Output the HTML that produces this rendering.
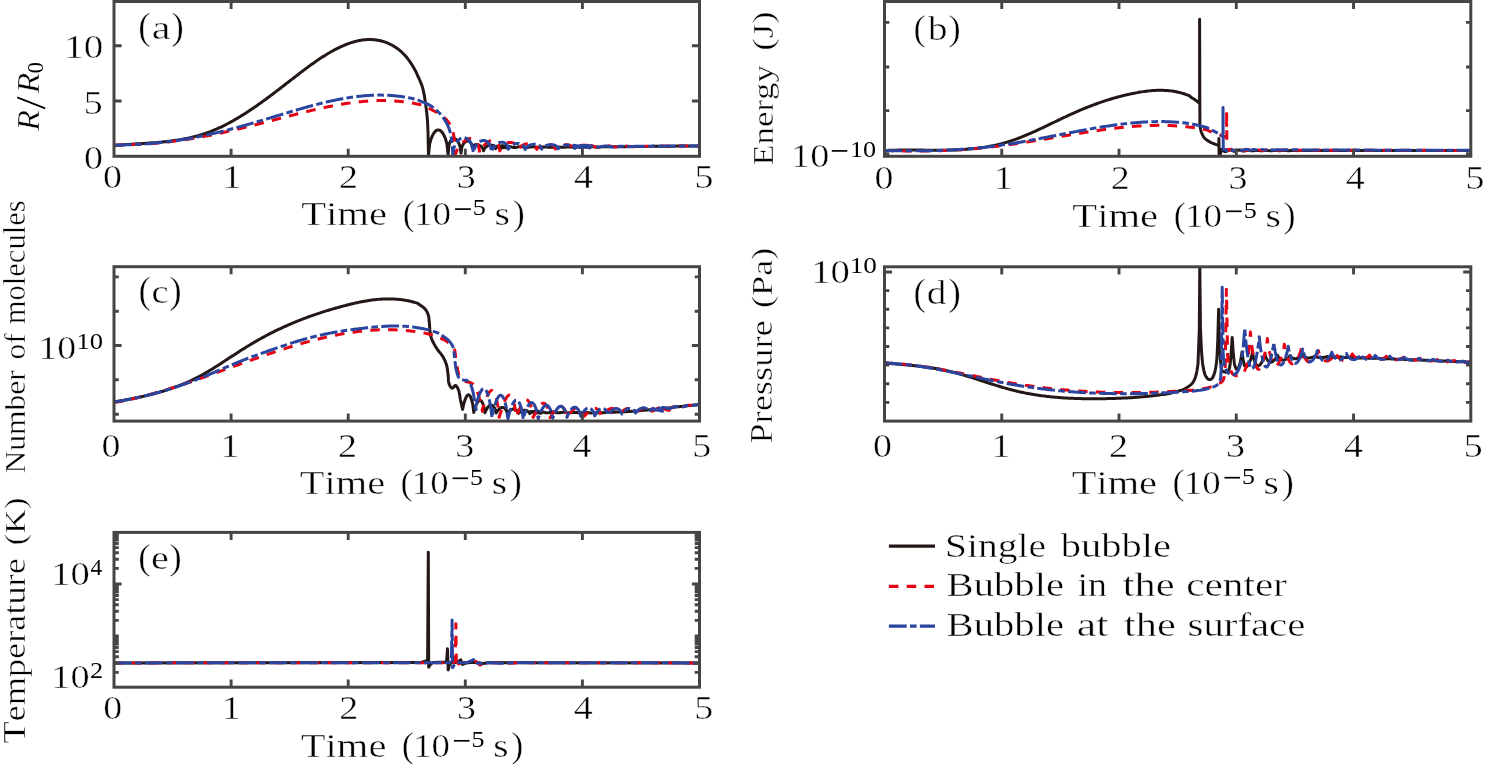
<!DOCTYPE html>
<html><head><meta charset="utf-8"><title>Bubble dynamics</title>
<style>
html,body{margin:0;padding:0;background:#fff;}
body{width:1485px;height:765px;overflow:hidden;font-family:"Liberation Serif",serif;}
svg{display:block;}
</style></head><body>
<svg width="1485" height="765" viewBox="0 0 1485 765">
<rect width="1485" height="765" fill="#fff"/>
<clipPath id="clipa"><rect x="114.00" y="1.50" width="585.50" height="154.80"/></clipPath>
<clipPath id="clipb"><rect x="884.50" y="1.50" width="586.30" height="154.80"/></clipPath>
<clipPath id="clipc"><rect x="114.00" y="266.70" width="585.50" height="154.40"/></clipPath>
<clipPath id="clipd"><rect x="884.50" y="266.80" width="586.30" height="154.30"/></clipPath>
<clipPath id="clipe"><rect x="114.00" y="532.40" width="585.50" height="154.80"/></clipPath>
<g clip-path="url(#clipa)" fill="none" stroke-width="3.0" stroke-linejoin="round">
<path d="M114.00 145.70L115.51 145.54L117.01 145.39L118.52 145.25L120.03 145.11L121.53 144.98L123.04 144.85L124.55 144.73L126.06 144.61L127.56 144.50L129.07 144.39L130.58 144.28L132.08 144.18L133.59 144.07L135.10 143.97L136.60 143.87L138.11 143.78L139.62 143.68L141.13 143.58L142.63 143.48L144.14 143.38L145.65 143.28L147.15 143.18L148.66 143.08L150.17 142.97L151.67 142.86L153.18 142.75L154.69 142.63L156.20 142.51L157.70 142.39L159.21 142.26L160.72 142.12L162.22 141.98L163.73 141.83L165.24 141.67L166.74 141.51L168.25 141.33L169.76 141.15L171.26 140.97L172.77 140.77L174.28 140.56L175.79 140.34L177.29 140.11L178.80 139.88L180.31 139.63L181.81 139.36L183.32 139.09L184.83 138.80L186.33 138.50L187.84 138.19L189.35 137.86L190.86 137.52L192.36 137.16L193.87 136.79L195.38 136.40L196.88 136.00L198.39 135.58L199.90 135.14L201.40 134.69L202.91 134.22L204.42 133.73L205.92 133.22L207.43 132.69L208.94 132.14L210.45 131.57L211.95 130.98L213.46 130.37L214.97 129.74L216.47 129.09L217.98 128.42L219.49 127.73L220.99 127.03L222.50 126.30L224.01 125.56L225.52 124.80L227.02 124.02L228.53 123.23L230.04 122.42L231.54 121.59L233.05 120.75L234.56 119.89L236.06 119.01L237.57 118.13L239.08 117.22L240.59 116.31L242.09 115.38L243.60 114.43L245.11 113.47L246.61 112.51L248.12 111.52L249.63 110.53L251.13 109.52L252.64 108.51L254.15 107.48L255.65 106.44L257.16 105.40L258.67 104.34L260.18 103.27L261.68 102.20L263.19 101.11L264.70 100.02L266.20 98.92L267.71 97.81L269.22 96.69L270.72 95.57L272.23 94.44L273.74 93.31L275.25 92.17L276.75 91.02L278.26 89.87L279.77 88.71L281.27 87.55L282.78 86.38L284.29 85.22L285.79 84.05L287.30 82.87L288.81 81.70L290.31 80.53L291.82 79.36L293.33 78.19L294.84 77.02L296.34 75.86L297.85 74.70L299.36 73.54L300.86 72.39L302.37 71.25L303.88 70.11L305.38 68.98L306.89 67.86L308.40 66.76L309.91 65.66L311.41 64.57L312.92 63.49L314.43 62.43L315.93 61.38L317.44 60.35L318.95 59.33L320.45 58.33L321.96 57.34L323.47 56.37L324.98 55.42L326.48 54.49L327.99 53.58L329.50 52.69L331.00 51.82L332.51 50.98L334.02 50.16L335.52 49.36L337.03 48.58L338.54 47.84L340.04 47.12L341.55 46.42L343.06 45.76L344.57 45.12L346.07 44.51L347.58 43.94L349.09 43.39L350.59 42.88L352.10 42.40L353.61 41.95L355.11 41.54L356.62 41.16L358.13 40.82L359.64 40.52L361.14 40.25L362.65 40.03L364.16 39.84L365.66 39.70L367.17 39.60L368.68 39.54L370.18 39.53L371.69 39.56L373.20 39.64L374.70 39.77L376.21 39.95L377.72 40.19L379.23 40.47L380.73 40.81L382.24 41.20L383.75 41.65L385.25 42.15L386.76 42.72L388.27 43.34L389.77 44.02L391.28 44.77L392.79 45.58L394.30 46.46L395.80 47.43L397.31 48.48L398.82 49.62L400.32 50.87L401.83 52.23L403.34 53.70L404.84 55.30L406.35 57.04L407.86 58.91L409.37 60.93L410.87 63.11L412.38 65.45L413.89 67.98L415.39 70.72L416.90 73.69L416.90 74.00L417.24 74.75L417.59 75.50L417.94 76.25L418.30 77.00L418.65 77.75L418.99 78.50L419.33 79.25L419.67 80.00L419.99 80.75L420.30 81.50L420.59 82.22L420.87 82.92L421.15 83.60L421.42 84.29L421.68 84.98L421.94 85.69L422.19 86.41L422.43 87.17L422.67 87.96L422.90 88.80L423.21 90.03L423.50 91.33L423.79 92.69L424.06 94.11L424.32 95.57L424.57 97.07L424.81 98.59L425.05 100.12L425.28 101.66L425.50 103.20L425.74 104.91L425.98 106.63L426.20 108.35L426.42 110.09L426.63 111.87L426.82 113.68L427.01 115.54L427.18 117.45L427.35 119.44L427.50 121.50L427.68 124.41L427.82 127.49L427.94 130.71L428.04 134.03L428.12 137.44L428.19 140.89L428.26 144.36L428.33 147.82L428.41 151.25L428.50 154.60L429.73 143.69L430.95 139.32L432.18 136.19L433.40 133.83L434.62 132.08L435.85 130.86L437.07 130.14L438.30 129.90L439.53 130.14L440.75 130.86L441.98 132.08L443.20 133.83L444.43 136.19L445.65 139.32L446.88 143.69L448.10 154.60L448.91 145.56L449.71 142.84L450.52 141.08L451.33 139.88L452.13 139.10L452.94 138.64L453.74 138.48L454.55 138.59L455.36 138.93L456.16 139.52L456.97 140.35L457.77 141.44L458.58 142.81L459.39 144.57L460.19 146.98L461.00 153.00L461.71 147.73L462.41 145.77L463.12 144.36L463.82 143.28L464.53 142.44L465.24 141.81L465.94 141.37L466.65 141.09L467.36 140.98L468.06 141.03L468.77 141.23L469.48 141.61L470.18 142.19L470.89 143.02L471.59 144.26L472.30 147.80L473.01 146.00L473.71 145.39L474.42 145.01L475.12 144.77L475.83 144.63L476.54 144.60L477.24 144.66L477.95 144.80L478.66 145.03L479.36 145.35L480.07 145.76L480.78 146.27L481.48 146.88L482.19 147.64L482.89 148.62L483.60 150.80L484.35 148.67L485.10 147.74L485.85 147.03L486.60 146.47L487.35 146.01L488.10 145.65L488.85 145.38L489.60 145.20L490.35 145.11L491.10 145.10L491.85 145.18L492.60 145.37L493.35 145.66L494.10 146.09L494.85 146.75L495.60 148.60L496.35 147.46L497.10 146.98L497.85 146.62L498.60 146.35L499.35 146.13L500.10 145.97L500.85 145.86L501.60 145.80L502.35 145.79L503.10 145.82L503.85 145.91L504.60 146.05L505.35 146.25L506.10 146.53L506.85 146.93L507.60 148.00L496.60 146.20L497.30 146.27L498.00 146.43L498.70 146.66L499.40 146.93L500.10 147.20L500.80 147.44L501.50 147.61L502.20 147.70L502.90 147.69L503.60 147.60L504.30 147.44L505.00 147.23L505.70 147.00L506.40 146.78L507.10 146.60L507.80 146.48L508.50 146.44L509.20 146.48L509.90 146.60L510.60 146.76L511.30 146.96L512.00 147.16L512.70 147.34L513.40 147.48L514.10 147.55L514.80 147.56L515.50 147.50L516.20 147.39L516.90 147.24L517.60 147.07L518.30 146.90L519.00 146.76L519.70 146.67L520.40 146.64L521.10 146.66L521.80 146.73L522.50 146.85L523.20 147.00L523.90 147.15L524.60 147.29L525.30 147.39L526.00 147.46L526.70 147.47L527.40 147.44L528.10 147.36L528.80 147.25L529.50 147.12L530.20 147.00L530.90 146.89L531.60 146.82L532.30 146.79L533.00 146.80L533.70 146.85L534.40 146.94L535.10 147.04L535.80 147.16L536.50 147.26L537.20 147.34L537.90 147.40L538.60 147.41L539.30 147.39L540.00 147.34L540.70 147.26L541.40 147.17L542.10 147.08L542.80 147.00L543.50 146.94L544.20 146.91L544.90 146.92L545.60 146.95L546.30 147.01L547.00 147.09L547.70 147.17L548.40 147.25L549.10 147.32L549.80 147.36L550.50 147.38L551.20 147.37L551.90 147.33L552.60 147.28L553.30 147.21L554.00 147.14L554.70 147.08L555.40 147.04L556.10 147.01L556.80 147.01L557.50 147.04L558.20 147.08L558.90 147.14L559.60 147.20L560.30 147.26L561.00 147.30L561.70 147.33L562.40 147.33L563.10 147.32L563.80 147.29L564.50 147.24L565.20 147.19L565.90 147.13L566.60 147.08L567.30 147.03L568.00 147.01L568.70 147.00L569.40 147.00L570.10 147.03L570.80 147.06L571.50 147.10L572.20 147.14L572.90 147.17L573.60 147.19L574.30 147.19L575.00 147.19L575.70 147.16L576.40 147.13L577.10 147.09L577.80 147.04L578.50 147.00L579.20 146.96L579.90 146.94L580.60 146.93L581.30 146.93L582.00 146.95L582.70 146.97L583.40 147.00L584.10 147.02L584.80 147.05L585.50 147.06L586.20 147.06L586.90 147.06L587.60 147.04L588.30 147.02L589.00 146.98L589.70 146.95L590.40 146.92L591.10 146.89L591.80 146.87L592.50 146.86L593.20 146.86L593.90 146.86L594.60 146.88L595.30 146.90L596.00 146.91L596.70 146.93L597.40 146.94L598.10 146.94L598.80 146.94L599.50 146.93L600.20 146.91L600.90 146.88L601.60 146.85L602.30 146.83L603.00 146.80L603.70 146.79L604.40 146.78L605.10 146.77L605.80 146.78L606.50 146.78L607.20 146.80L607.90 146.81L608.60 146.82L609.30 146.83L610.00 146.83L610.70 146.82L611.40 146.81L612.10 146.80L612.80 146.78L613.50 146.76L614.20 146.74L614.90 146.72L615.60 146.70L616.30 146.69L617.00 146.69L617.70 146.69L618.40 146.69L619.10 146.70L619.80 146.71L620.50 146.71L621.20 146.71L621.90 146.71L622.60 146.71L623.30 146.70L624.00 146.68L624.70 146.67L625.40 146.65L626.10 146.63L626.80 146.61L627.50 146.60L628.20 146.59L628.90 146.58L629.60 146.58L630.30 146.58L631.00 146.58L631.70 146.58L632.40 146.59L633.10 146.59L633.80 146.58L634.50 146.58L635.20 146.57L635.90 146.56L636.60 146.55L637.30 146.53L638.00 146.51L638.70 146.50L639.40 146.49L640.10 146.48L640.80 146.47L641.50 146.46L642.20 146.46L642.90 146.46L643.60 146.46L644.30 146.46L645.00 146.46L645.70 146.46L646.40 146.45L647.10 146.45L647.80 146.44L648.50 146.42L649.20 146.41L649.90 146.40L650.60 146.38L651.30 146.37L652.00 146.36L652.70 146.35L653.40 146.35L654.10 146.35L654.80 146.34L655.50 146.34L656.20 146.34L656.90 146.34L657.60 146.33L658.30 146.33L659.00 146.32L659.70 146.31L660.40 146.30L661.10 146.29L661.80 146.28L662.50 146.27L663.20 146.26L663.90 146.25L664.60 146.24L665.30 146.23L666.00 146.23L666.70 146.22L667.40 146.22L668.10 146.22L668.80 146.22L669.50 146.21L670.20 146.21L670.90 146.20L671.60 146.19L672.30 146.18L673.00 146.17L673.70 146.16L674.40 146.15L675.10 146.14L675.80 146.13L676.50 146.12L677.20 146.12L677.90 146.11L678.60 146.11L679.30 146.10L680.00 146.10L680.70 146.09L681.40 146.09L682.10 146.08L682.80 146.08L683.50 146.07L684.20 146.06L684.90 146.05L685.60 146.04L686.30 146.03L687.00 146.02L687.70 146.01L688.40 146.01L689.10 146.00L689.80 145.99L690.50 145.99L691.20 145.98L691.90 145.98L692.60 145.97L693.30 145.97L694.00 145.96L694.70 145.95L695.40 145.95L696.10 145.94L696.80 145.93L697.50 145.92L698.20 145.91L698.90 145.90" stroke="#231815"/>
<path d="M114.00 144.90L115.51 144.91L117.01 144.92L118.52 144.92L120.02 144.91L121.53 144.90L123.03 144.88L124.54 144.86L126.05 144.83L127.55 144.80L129.06 144.76L130.56 144.71L132.07 144.66L133.58 144.61L135.08 144.55L136.59 144.48L138.09 144.41L139.60 144.34L141.10 144.26L142.61 144.17L144.12 144.08L145.62 143.98L147.13 143.88L148.63 143.78L150.14 143.66L151.65 143.55L153.15 143.42L154.66 143.30L156.16 143.17L157.67 143.03L159.17 142.89L160.68 142.74L162.19 142.59L163.69 142.43L165.20 142.27L166.70 142.10L168.21 141.93L169.72 141.75L171.22 141.57L172.73 141.38L174.23 141.19L175.74 141.00L177.24 140.80L178.75 140.59L180.26 140.38L181.76 140.17L183.27 139.95L184.77 139.72L186.28 139.49L187.79 139.26L189.29 139.02L190.80 138.78L192.30 138.53L193.81 138.28L195.31 138.02L196.82 137.76L198.33 137.49L199.83 137.22L201.34 136.95L202.84 136.67L204.35 136.38L205.86 136.10L207.36 135.80L208.87 135.51L210.37 135.21L211.88 134.90L213.38 134.59L214.89 134.28L216.40 133.96L217.90 133.64L219.41 133.32L220.91 132.99L222.42 132.66L223.93 132.33L225.43 131.99L226.94 131.65L228.44 131.31L229.95 130.96L231.45 130.61L232.96 130.26L234.47 129.91L235.97 129.55L237.48 129.19L238.98 128.83L240.49 128.47L242.00 128.10L243.50 127.73L245.01 127.36L246.51 126.99L248.02 126.62L249.52 126.24L251.03 125.86L252.54 125.48L254.04 125.10L255.55 124.72L257.05 124.34L258.56 123.95L260.07 123.57L261.57 123.18L263.08 122.79L264.58 122.40L266.09 122.01L267.59 121.62L269.10 121.23L270.61 120.84L272.11 120.45L273.62 120.05L275.12 119.66L276.63 119.27L278.13 118.88L279.64 118.48L281.15 118.09L282.65 117.70L284.16 117.30L285.66 116.91L287.17 116.52L288.68 116.13L290.18 115.74L291.69 115.35L293.19 114.96L294.70 114.58L296.20 114.19L297.71 113.81L299.22 113.43L300.72 113.05L302.23 112.68L303.73 112.30L305.24 111.93L306.75 111.57L308.25 111.20L309.76 110.84L311.26 110.48L312.77 110.13L314.27 109.77L315.78 109.43L317.29 109.08L318.79 108.74L320.30 108.41L321.80 108.08L323.31 107.75L324.82 107.43L326.32 107.12L327.83 106.81L329.33 106.50L330.84 106.20L332.34 105.91L333.85 105.62L335.36 105.34L336.86 105.06L338.37 104.80L339.87 104.53L341.38 104.28L342.89 104.03L344.39 103.79L345.90 103.55L347.40 103.33L348.91 103.11L350.41 102.90L351.92 102.69L353.43 102.50L354.93 102.31L356.44 102.13L357.94 101.96L359.45 101.80L360.96 101.65L362.46 101.51L363.97 101.37L365.47 101.25L366.98 101.13L368.48 101.03L369.99 100.94L371.50 100.85L373.00 100.78L374.51 100.71L376.01 100.66L377.52 100.62L379.03 100.59L380.53 100.57L382.04 100.56L383.54 100.56L385.05 100.58L386.55 100.61L388.06 100.65L389.57 100.70L391.07 100.76L392.58 100.84L394.08 100.93L395.59 101.03L397.10 101.15L398.60 101.27L400.11 101.42L401.61 101.57L403.12 101.74L404.62 101.92L406.13 102.12L407.64 102.33L409.14 102.56L410.65 102.80L412.15 103.06L413.66 103.33L415.17 103.61L416.67 103.91L418.18 104.23L419.68 104.56L421.19 104.91L422.69 105.28L424.20 105.66L424.20 105.80L425.29 106.38L426.41 106.96L427.54 107.55L428.67 108.14L429.79 108.73L430.90 109.31L431.98 109.88L433.03 110.44L434.04 110.98L435.00 111.50L435.69 111.87L436.36 112.22L437.01 112.55L437.63 112.87L438.24 113.18L438.84 113.50L439.43 113.84L440.02 114.19L440.61 114.58L441.20 115.00L441.86 115.51L442.53 116.04L443.20 116.61L443.86 117.20L444.51 117.81L445.15 118.43L445.77 119.07L446.38 119.71L446.95 120.35L447.50 121.00L447.99 121.60L448.46 122.21L448.92 122.82L449.36 123.43L449.78 124.06L450.19 124.70L450.57 125.35L450.93 126.01L451.28 126.70L451.60 127.40L451.92 128.19L452.21 129.00L452.47 129.83L452.70 130.68L452.92 131.54L453.11 132.42L453.30 133.31L453.47 134.20L453.64 135.10L453.80 136.00L453.96 136.97L454.11 137.96L454.23 138.97L454.35 139.99L454.45 141.01L454.55 142.04L454.63 143.05L454.72 144.06L454.81 145.04L454.90 146.00L454.98 146.84L455.06 147.66L455.13 148.46L455.20 149.26L455.27 150.06L455.33 150.84L455.40 151.63L455.46 152.41L455.53 153.20L455.60 154.00L457.12 149.91L458.64 147.45L460.16 145.40L461.68 143.64L463.19 142.11L464.71 140.82L466.23 139.79L467.75 139.04L469.27 138.60L470.79 138.50L472.31 138.79L473.83 139.52L475.34 140.75L476.86 142.62L478.38 145.46L479.90 153.00L481.14 149.47L482.39 147.48L483.63 145.85L484.88 144.47L486.12 143.29L487.36 142.31L488.61 141.53L489.85 140.97L491.09 140.65L492.34 140.57L493.58 140.78L494.83 141.29L496.07 142.17L497.31 143.48L498.56 145.49L499.80 150.90L500.96 148.03L502.11 146.60L503.27 145.48L504.43 144.57L505.58 143.82L506.74 143.23L507.89 142.79L509.05 142.51L510.21 142.39L511.36 142.44L512.52 142.68L513.67 143.11L514.83 143.78L515.99 144.73L517.14 146.13L518.30 149.80L519.46 147.65L520.61 146.60L521.77 145.78L522.92 145.11L524.08 144.57L525.24 144.15L526.39 143.85L527.55 143.66L528.71 143.60L529.86 143.66L531.02 143.87L532.17 144.23L533.33 144.76L534.49 145.50L535.64 146.59L536.80 149.40L537.96 147.64L539.11 146.78L540.27 146.10L541.42 145.56L542.58 145.11L543.74 144.76L544.89 144.51L546.05 144.35L547.21 144.30L548.36 144.35L549.52 144.51L550.67 144.80L551.83 145.22L552.99 145.83L554.14 146.71L555.30 149.00L556.46 147.56L557.61 146.85L558.77 146.30L559.92 145.85L561.08 145.48L562.24 145.19L563.39 144.98L564.55 144.85L565.71 144.80L566.86 144.83L568.02 144.96L569.17 145.19L570.33 145.53L571.49 146.02L572.64 146.74L573.80 148.60L574.96 147.45L576.11 146.87L577.27 146.43L578.42 146.06L579.58 145.76L580.74 145.53L581.89 145.35L583.05 145.24L584.21 145.20L585.36 145.22L586.52 145.32L587.67 145.50L588.83 145.77L589.99 146.15L591.14 146.72L592.30 148.20L589.80 145.40L590.50 145.46L591.20 145.58L591.90 145.76L592.60 145.98L593.30 146.22L594.00 146.47L594.70 146.72L595.40 146.95L596.10 147.15L596.80 147.30L597.50 147.40L598.20 147.45L598.90 147.45L599.60 147.39L600.30 147.29L601.00 147.15L601.70 146.98L602.40 146.79L603.10 146.60L603.80 146.41L604.50 146.24L605.20 146.10L605.90 145.98L606.60 145.91L607.30 145.87L608.00 145.87L608.70 145.92L609.40 145.99L610.10 146.10L610.80 146.22L611.50 146.35L612.20 146.49L612.90 146.62L613.60 146.74L614.30 146.84L615.00 146.92L615.70 146.97L616.40 146.98L617.10 146.97L617.80 146.93L618.50 146.87L619.20 146.78L619.90 146.69L620.60 146.58L621.30 146.47L622.00 146.37L622.70 146.28L623.40 146.20L624.10 146.15L624.80 146.11L625.50 146.09L626.20 146.10L626.90 146.13L627.60 146.17L628.30 146.23L629.00 146.30L629.70 146.38L630.40 146.45L631.10 146.52L631.80 146.58L632.50 146.63L633.20 146.67L633.90 146.69L634.60 146.69L635.30 146.68L636.00 146.65L636.70 146.61L637.40 146.56L638.10 146.51L638.80 146.45L639.50 146.39L640.20 146.33L640.90 146.28L641.60 146.23L642.30 146.20L643.00 146.18L643.70 146.17L644.40 146.17L645.10 146.19L645.80 146.21L646.50 146.24L647.20 146.27L647.90 146.31L648.60 146.35L649.30 146.38L650.00 146.41L650.70 146.43L651.40 146.44L652.10 146.44L652.80 146.44L653.50 146.43L654.20 146.40L654.90 146.38L655.60 146.34L656.30 146.31L657.00 146.27L657.70 146.23L658.40 146.20L659.10 146.17L659.80 146.14L660.50 146.13L661.20 146.11L661.90 146.11L662.60 146.11L663.30 146.11L664.00 146.13L664.70 146.14L665.40 146.16L666.10 146.17L666.80 146.19L667.50 146.21L668.20 146.22L668.90 146.22L669.60 146.23L670.30 146.23L671.00 146.22L671.70 146.21L672.40 146.19L673.10 146.17L673.80 146.15L674.50 146.13L675.20 146.11L675.90 146.08L676.60 146.06L677.30 146.04L678.00 146.03L678.70 146.02L679.40 146.01L680.10 146.00L680.80 146.00L681.50 146.00L682.20 146.01L682.90 146.01L683.60 146.02L684.30 146.03L685.00 146.03L685.70 146.04L686.40 146.04L687.10 146.04L687.80 146.04L688.50 146.04L689.20 146.03L689.90 146.02L690.60 146.01L691.30 146.00L692.00 145.98L692.70 145.97L693.40 145.95L694.10 145.94L694.80 145.92L695.50 145.91L696.20 145.90L696.90 145.89L697.60 145.88L698.30 145.88L699.00 145.88" stroke="#e60012" stroke-dasharray="9.5 8.3"/>
<path d="M114.00 145.02L115.50 145.02L117.01 145.02L118.51 145.00L120.01 144.99L121.51 144.96L123.02 144.94L124.52 144.90L126.02 144.87L127.53 144.82L129.03 144.77L130.53 144.72L132.04 144.66L133.54 144.59L135.04 144.52L136.54 144.45L138.05 144.37L139.55 144.28L141.05 144.19L142.56 144.09L144.06 143.99L145.56 143.88L147.07 143.77L148.57 143.65L150.07 143.53L151.57 143.40L153.08 143.27L154.58 143.13L156.08 142.98L157.59 142.84L159.09 142.68L160.59 142.52L162.10 142.35L163.60 142.18L165.10 142.01L166.60 141.82L168.11 141.64L169.61 141.45L171.11 141.25L172.62 141.04L174.12 140.84L175.62 140.62L177.12 140.40L178.63 140.18L180.13 139.95L181.63 139.71L183.14 139.47L184.64 139.23L186.14 138.98L187.65 138.72L189.15 138.46L190.65 138.19L192.15 137.92L193.66 137.64L195.16 137.36L196.66 137.07L198.17 136.78L199.67 136.48L201.17 136.17L202.68 135.86L204.18 135.55L205.68 135.23L207.18 134.90L208.69 134.57L210.19 134.24L211.69 133.89L213.20 133.55L214.70 133.20L216.20 132.85L217.70 132.49L219.21 132.12L220.71 131.76L222.21 131.38L223.72 131.01L225.22 130.63L226.72 130.24L228.23 129.86L229.73 129.47L231.23 129.07L232.73 128.67L234.24 128.27L235.74 127.87L237.24 127.46L238.75 127.05L240.25 126.63L241.75 126.22L243.26 125.80L244.76 125.37L246.26 124.95L247.76 124.52L249.27 124.09L250.77 123.66L252.27 123.22L253.78 122.79L255.28 122.35L256.78 121.91L258.29 121.47L259.79 121.02L261.29 120.58L262.79 120.13L264.30 119.68L265.80 119.23L267.30 118.78L268.81 118.33L270.31 117.87L271.81 117.42L273.31 116.96L274.82 116.51L276.32 116.05L277.82 115.60L279.33 115.14L280.83 114.69L282.33 114.23L283.84 113.78L285.34 113.32L286.84 112.87L288.34 112.42L289.85 111.97L291.35 111.53L292.85 111.08L294.36 110.64L295.86 110.20L297.36 109.76L298.87 109.32L300.37 108.89L301.87 108.46L303.37 108.03L304.88 107.61L306.38 107.19L307.88 106.77L309.39 106.36L310.89 105.96L312.39 105.55L313.90 105.15L315.40 104.76L316.90 104.37L318.40 103.99L319.91 103.61L321.41 103.24L322.91 102.87L324.42 102.51L325.92 102.16L327.42 101.81L328.92 101.47L330.43 101.13L331.93 100.80L333.43 100.48L334.94 100.17L336.44 99.86L337.94 99.56L339.45 99.27L340.95 98.99L342.45 98.71L343.95 98.45L345.46 98.19L346.96 97.94L348.46 97.70L349.97 97.47L351.47 97.25L352.97 97.04L354.48 96.84L355.98 96.65L357.48 96.47L358.98 96.30L360.49 96.14L361.99 95.99L363.49 95.85L365.00 95.72L366.50 95.61L368.00 95.50L369.50 95.41L371.01 95.33L372.51 95.26L374.01 95.20L375.52 95.16L377.02 95.13L378.52 95.11L380.03 95.11L381.53 95.11L383.03 95.14L384.53 95.17L386.04 95.22L387.54 95.28L389.04 95.36L390.55 95.45L392.05 95.56L393.55 95.68L395.06 95.82L396.56 95.97L398.06 96.14L399.56 96.32L401.07 96.52L402.57 96.73L404.07 96.96L405.58 97.21L407.08 97.48L408.58 97.76L410.09 98.05L411.59 98.37L413.09 98.70L414.59 99.05L416.10 99.42L417.60 99.80L417.60 99.90L418.92 100.47L420.26 101.02L421.61 101.56L422.96 102.09L424.30 102.63L425.64 103.19L426.95 103.78L428.24 104.40L429.49 105.07L430.70 105.80L431.86 106.58L433.01 107.39L434.14 108.25L435.25 109.14L436.33 110.07L437.38 111.02L438.40 111.99L439.37 112.98L440.31 113.99L441.20 115.00L442.00 115.97L442.76 116.98L443.49 118.01L444.19 119.06L444.86 120.12L445.50 121.19L446.10 122.26L446.67 123.32L447.20 124.37L447.70 125.40L448.10 126.27L448.46 127.13L448.80 127.98L449.11 128.82L449.40 129.67L449.66 130.51L449.91 131.37L450.15 132.23L450.38 133.11L450.60 134.00L450.82 134.96L451.02 135.93L451.19 136.92L451.35 137.92L451.50 138.92L451.64 139.93L451.76 140.95L451.88 141.96L451.99 142.98L452.10 144.00L452.20 145.05L452.29 146.10L452.37 147.15L452.44 148.21L452.50 149.28L452.56 150.34L452.62 151.41L452.67 152.47L452.73 153.54L452.80 154.60L454.09 147.47L455.38 144.53L456.66 142.39L457.95 140.75L459.24 139.49L460.53 138.58L461.81 137.98L463.10 137.70L464.39 137.72L465.68 138.05L466.96 138.70L468.25 139.70L469.54 141.08L470.83 142.96L472.11 145.63L473.40 152.50L474.54 148.29L475.69 146.22L476.83 144.62L477.98 143.32L479.12 142.27L480.26 141.45L481.41 140.86L482.55 140.51L483.69 140.40L484.84 140.54L485.98 140.96L487.13 141.67L488.27 142.72L489.41 144.21L490.56 146.36L491.70 151.90L492.74 148.80L493.79 147.21L494.83 145.95L495.88 144.90L496.92 144.03L497.96 143.32L499.01 142.77L500.05 142.39L501.09 142.17L502.14 142.14L503.18 142.29L504.23 142.66L505.27 143.26L506.31 144.17L507.36 145.54L508.40 149.30L509.45 147.19L510.50 146.17L511.55 145.39L512.60 144.76L513.65 144.25L514.70 143.86L515.75 143.59L516.80 143.44L517.85 143.40L518.90 143.50L519.95 143.74L521.00 144.12L522.05 144.68L523.10 145.46L524.15 146.57L525.20 149.40L526.23 147.58L527.26 146.69L528.29 146.00L529.33 145.44L530.36 144.99L531.39 144.64L532.42 144.39L533.45 144.24L534.48 144.20L535.51 144.27L536.54 144.45L537.58 144.76L538.61 145.22L539.64 145.87L540.67 146.80L541.70 149.20L542.73 147.62L543.76 146.84L544.79 146.23L545.83 145.74L546.86 145.34L547.89 145.02L548.92 144.79L549.95 144.65L550.98 144.60L552.01 144.64L553.04 144.78L554.08 145.04L555.11 145.42L556.14 145.96L557.17 146.75L558.20 148.80L559.23 147.50L560.26 146.86L561.29 146.36L562.33 145.95L563.36 145.62L564.39 145.36L565.42 145.17L566.45 145.04L567.48 145.00L568.51 145.03L569.54 145.14L570.58 145.34L571.61 145.65L572.64 146.09L573.67 146.73L574.70 148.40L575.73 147.39L576.76 146.88L577.79 146.49L578.83 146.17L579.86 145.90L580.89 145.69L581.92 145.54L582.95 145.44L583.98 145.40L585.01 145.41L586.04 145.50L587.08 145.65L588.11 145.88L589.14 146.22L590.17 146.71L591.20 148.00L573.70 145.30L574.40 145.37L575.10 145.53L575.80 145.76L576.50 146.05L577.20 146.36L577.90 146.68L578.60 146.98L579.30 147.24L580.00 147.44L580.70 147.57L581.40 147.62L582.10 147.59L582.80 147.49L583.50 147.33L584.20 147.11L584.90 146.87L585.60 146.61L586.30 146.36L587.00 146.14L587.70 145.95L588.40 145.82L589.10 145.75L589.80 145.75L590.50 145.80L591.20 145.91L591.90 146.06L592.60 146.24L593.30 146.44L594.00 146.64L594.70 146.83L595.40 146.99L596.10 147.11L596.80 147.18L597.50 147.21L598.20 147.18L598.90 147.11L599.60 147.00L600.30 146.86L601.00 146.70L601.70 146.54L602.40 146.38L603.10 146.24L603.80 146.13L604.50 146.05L605.20 146.01L605.90 146.01L606.60 146.05L607.30 146.12L608.00 146.22L608.70 146.34L609.40 146.47L610.10 146.59L610.80 146.71L611.50 146.81L612.20 146.88L612.90 146.92L613.60 146.93L614.30 146.91L615.00 146.86L615.70 146.79L616.40 146.70L617.10 146.59L617.80 146.49L618.50 146.39L619.20 146.30L619.90 146.24L620.60 146.19L621.30 146.16L622.00 146.16L622.70 146.18L623.40 146.23L624.10 146.29L624.80 146.36L625.50 146.44L626.20 146.51L626.90 146.58L627.60 146.63L628.30 146.67L629.00 146.69L629.70 146.69L630.40 146.67L631.10 146.63L631.80 146.58L632.50 146.52L633.20 146.45L633.90 146.38L634.60 146.31L635.30 146.25L636.00 146.21L636.70 146.18L637.40 146.16L638.10 146.16L638.80 146.17L639.50 146.20L640.20 146.24L640.90 146.28L641.60 146.33L642.30 146.37L643.00 146.41L643.70 146.45L644.40 146.47L645.10 146.47L645.80 146.47L646.50 146.45L647.20 146.43L647.90 146.39L648.60 146.35L649.30 146.30L650.00 146.26L650.70 146.21L651.40 146.18L652.10 146.15L652.80 146.13L653.50 146.11L654.20 146.11L654.90 146.12L655.60 146.14L656.30 146.16L657.00 146.19L657.70 146.22L658.40 146.24L659.10 146.26L659.80 146.28L660.50 146.29L661.20 146.29L661.90 146.29L662.60 146.27L663.30 146.25L664.00 146.23L664.70 146.20L665.40 146.17L666.10 146.14L666.80 146.11L667.50 146.08L668.20 146.06L668.90 146.05L669.60 146.04L670.30 146.04L671.00 146.04L671.70 146.05L672.40 146.07L673.10 146.08L673.80 146.10L674.50 146.11L675.20 146.12L675.90 146.13L676.60 146.14L677.30 146.13L678.00 146.13L678.70 146.12L679.40 146.10L680.10 146.08L680.80 146.06L681.50 146.04L682.20 146.02L682.90 146.00L683.60 145.98L684.30 145.97L685.00 145.96L685.70 145.95L686.40 145.95L687.10 145.95L687.80 145.95L688.50 145.96L689.20 145.97L689.90 145.98L690.60 145.98L691.30 145.99L692.00 145.99L692.70 145.99L693.40 145.99L694.10 145.98L694.80 145.97L695.50 145.96L696.20 145.95L696.90 145.93L697.60 145.92L698.30 145.90L699.00 145.89" stroke="#2a45a0" stroke-dasharray="17.8 3.3 6.6 3.3"/>
</g>
<g clip-path="url(#clipb)" fill="none" stroke-width="3.0" stroke-linejoin="round">
<path d="M884.50 150.58L886.00 150.50L887.51 150.43L889.01 150.36L890.52 150.30L892.02 150.25L893.53 150.20L895.03 150.16L896.54 150.13L898.04 150.10L899.55 150.08L901.05 150.06L902.56 150.04L904.06 150.03L905.57 150.02L907.07 150.02L908.58 150.02L910.08 150.02L911.59 150.02L913.09 150.03L914.60 150.04L916.10 150.05L917.61 150.06L919.11 150.07L920.62 150.09L922.12 150.10L923.63 150.12L925.13 150.13L926.64 150.14L928.14 150.16L929.65 150.17L931.15 150.18L932.66 150.19L934.16 150.19L935.67 150.20L937.17 150.20L938.68 150.20L940.18 150.20L941.69 150.19L943.19 150.18L944.70 150.16L946.20 150.14L947.71 150.12L949.21 150.09L950.72 150.05L952.22 150.01L953.73 149.97L955.23 149.92L956.74 149.86L958.24 149.79L959.75 149.72L961.25 149.64L962.76 149.55L964.26 149.46L965.77 149.35L967.27 149.24L968.78 149.12L970.28 148.99L971.79 148.85L973.29 148.70L974.80 148.54L976.30 148.37L977.81 148.19L979.31 148.00L980.82 147.80L982.32 147.58L983.83 147.36L985.33 147.12L986.83 146.87L988.34 146.60L989.84 146.33L991.35 146.04L992.85 145.73L994.36 145.42L995.86 145.09L997.37 144.74L998.87 144.38L1000.38 144.00L1001.88 143.61L1003.39 143.20L1004.89 142.78L1006.40 142.34L1007.90 141.88L1009.41 141.41L1010.91 140.92L1012.42 140.41L1013.92 139.89L1015.43 139.35L1016.93 138.80L1018.44 138.24L1019.94 137.66L1021.45 137.07L1022.95 136.46L1024.46 135.85L1025.96 135.22L1027.47 134.59L1028.97 133.94L1030.48 133.29L1031.98 132.62L1033.49 131.95L1034.99 131.27L1036.50 130.58L1038.00 129.89L1039.51 129.19L1041.01 128.49L1042.52 127.78L1044.02 127.07L1045.53 126.35L1047.03 125.63L1048.54 124.91L1050.04 124.19L1051.55 123.46L1053.05 122.74L1054.56 122.02L1056.06 121.29L1057.57 120.57L1059.07 119.85L1060.58 119.13L1062.08 118.41L1063.59 117.70L1065.09 116.99L1066.60 116.28L1068.10 115.59L1069.61 114.89L1071.11 114.20L1072.62 113.52L1074.12 112.85L1075.63 112.19L1077.13 111.53L1078.64 110.88L1080.14 110.24L1081.65 109.60L1083.15 108.98L1084.66 108.36L1086.16 107.75L1087.67 107.15L1089.17 106.56L1090.67 105.98L1092.18 105.40L1093.68 104.83L1095.19 104.28L1096.69 103.73L1098.20 103.19L1099.70 102.66L1101.21 102.14L1102.71 101.63L1104.22 101.12L1105.72 100.63L1107.23 100.15L1108.73 99.67L1110.24 99.21L1111.74 98.75L1113.25 98.31L1114.75 97.88L1116.26 97.45L1117.76 97.04L1119.27 96.63L1120.77 96.24L1122.28 95.85L1123.78 95.48L1125.29 95.12L1126.79 94.77L1128.30 94.43L1129.80 94.10L1131.31 93.78L1132.81 93.47L1134.32 93.17L1135.82 92.88L1137.33 92.61L1138.83 92.35L1140.34 92.10L1141.84 91.86L1143.35 91.63L1144.85 91.42L1146.36 91.23L1147.86 91.05L1149.37 90.88L1150.87 90.74L1152.38 90.61L1153.88 90.51L1155.39 90.42L1156.89 90.36L1158.40 90.32L1159.90 90.30L1161.41 90.30L1162.91 90.33L1164.42 90.38L1165.92 90.47L1167.43 90.57L1168.93 90.71L1170.44 90.87L1171.94 91.07L1173.45 91.29L1174.95 91.55L1176.46 91.84L1177.96 92.16L1179.47 92.51L1180.97 92.90L1182.48 93.33L1183.98 93.79L1185.49 94.29L1186.99 94.83L1188.50 95.40L1190.00 96.02L1190.00 96.60L1190.84 97.13L1191.70 97.67L1192.55 98.20L1193.40 98.74L1194.22 99.27L1195.00 99.80L1195.69 100.28L1196.38 100.79L1197.05 101.29L1197.68 101.77L1198.24 102.22L1198.70 102.60L1198.89 102.77L1199.05 102.93L1199.19 103.07L1199.33 103.21L1199.46 103.35L1199.60 103.50L1199.60 19.20L1199.90 126.00L1200.09 126.82L1200.26 127.64L1200.43 128.47L1200.60 129.30L1200.79 130.12L1200.99 130.93L1201.23 131.73L1201.50 132.50L1201.79 133.23L1202.09 133.96L1202.41 134.68L1202.76 135.39L1203.13 136.08L1203.54 136.75L1204.00 137.39L1204.50 138.00L1205.12 138.63L1205.80 139.24L1206.55 139.82L1207.33 140.37L1208.14 140.89L1208.96 141.39L1209.79 141.86L1210.60 142.30L1211.40 142.70L1212.25 143.08L1213.12 143.43L1214.00 143.76L1214.85 144.06L1215.65 144.34L1216.37 144.58L1217.00 144.80L1217.29 144.90L1217.55 144.99L1217.79 145.06L1218.02 145.13L1218.24 145.20L1218.45 145.26L1218.67 145.33L1218.90 145.40L1218.90 138.50L1219.20 158.00L1221.00 151.50L1221.00 149.30L1221.70 149.49L1222.40 149.92L1223.10 150.48L1223.80 151.02L1224.50 151.44L1225.20 151.63L1225.90 151.58L1226.60 151.31L1227.30 150.89L1228.00 150.44L1228.70 150.06L1229.40 149.82L1230.10 149.78L1230.80 149.92L1231.50 150.22L1232.20 150.57L1232.90 150.91L1233.60 151.16L1234.30 151.26L1235.00 151.21L1235.70 151.02L1236.40 150.75L1237.10 150.46L1237.80 150.22L1238.50 150.09L1239.20 150.08L1239.90 150.19L1240.60 150.39L1241.30 150.62L1242.00 150.83L1242.70 150.97L1243.40 151.02L1244.10 150.97L1244.80 150.84L1245.50 150.67L1246.20 150.49L1246.90 150.34L1247.60 150.27L1248.30 150.28L1249.00 150.35L1249.70 150.48L1250.40 150.63L1251.10 150.76L1251.80 150.85L1252.50 150.87L1253.20 150.83L1253.90 150.74L1254.60 150.63L1255.30 150.51L1256.00 150.43L1256.70 150.39L1257.40 150.40L1258.10 150.45L1258.80 150.54L1259.50 150.63L1260.20 150.71L1260.90 150.76L1261.60 150.77L1262.30 150.74L1263.00 150.68L1263.70 150.61L1264.40 150.53L1265.10 150.48L1265.80 150.46L1266.50 150.47L1267.20 150.51L1267.90 150.57L1268.60 150.63L1269.30 150.68L1270.00 150.71L1270.70 150.71L1271.40 150.68L1272.10 150.64L1272.80 150.60L1273.50 150.55L1274.20 150.52L1274.90 150.51L1275.60 150.52L1276.30 150.55L1277.00 150.59L1277.70 150.62L1278.40 150.65L1279.10 150.67L1279.80 150.67L1280.50 150.65L1281.20 150.62L1281.90 150.59L1282.60 150.57L1283.30 150.55L1284.00 150.54L1284.70 150.55L1285.40 150.57L1286.10 150.59L1286.80 150.62L1287.50 150.64L1288.20 150.64L1288.90 150.64L1289.60 150.63L1290.30 150.61L1291.00 150.59L1291.70 150.58L1292.40 150.57L1293.10 150.56L1293.80 150.57L1294.50 150.58L1295.20 150.60L1295.90 150.61L1296.60 150.62L1297.30 150.63L1298.00 150.63L1298.70 150.62L1299.40 150.61L1300.50 150.60L1470.80 150.60" stroke="#231815"/>
<path d="M884.50 150.36L886.00 150.42L887.51 150.49L889.01 150.54L890.52 150.60L892.02 150.65L893.53 150.70L895.03 150.75L896.54 150.79L898.04 150.83L899.55 150.87L901.05 150.90L902.56 150.93L904.06 150.96L905.57 150.99L907.07 151.01L908.57 151.03L910.08 151.04L911.58 151.05L913.09 151.06L914.59 151.07L916.10 151.07L917.60 151.07L919.11 151.07L920.61 151.06L922.12 151.05L923.62 151.04L925.13 151.02L926.63 151.00L928.13 150.98L929.64 150.95L931.14 150.92L932.65 150.89L934.15 150.85L935.66 150.81L937.16 150.77L938.67 150.73L940.17 150.68L941.68 150.62L943.18 150.57L944.69 150.51L946.19 150.44L947.70 150.38L949.20 150.31L950.70 150.24L952.21 150.16L953.71 150.08L955.22 149.99L956.72 149.91L958.23 149.82L959.73 149.72L961.24 149.63L962.74 149.52L964.25 149.42L965.75 149.31L967.26 149.20L968.76 149.08L970.27 148.97L971.77 148.84L973.27 148.72L974.78 148.59L976.28 148.45L977.79 148.32L979.29 148.18L980.80 148.03L982.30 147.88L983.81 147.73L985.31 147.58L986.82 147.42L988.32 147.25L989.83 147.09L991.33 146.92L992.83 146.74L994.34 146.57L995.84 146.39L997.35 146.20L998.85 146.01L1000.36 145.82L1001.86 145.63L1003.37 145.43L1004.87 145.23L1006.38 145.02L1007.88 144.81L1009.39 144.60L1010.89 144.39L1012.40 144.18L1013.90 143.96L1015.40 143.74L1016.91 143.51L1018.41 143.29L1019.92 143.06L1021.42 142.83L1022.93 142.60L1024.43 142.37L1025.94 142.13L1027.44 141.90L1028.95 141.66L1030.45 141.42L1031.96 141.18L1033.46 140.93L1034.97 140.69L1036.47 140.44L1037.97 140.20L1039.48 139.95L1040.98 139.70L1042.49 139.45L1043.99 139.20L1045.50 138.95L1047.00 138.70L1048.51 138.45L1050.01 138.19L1051.52 137.94L1053.02 137.69L1054.53 137.43L1056.03 137.18L1057.53 136.93L1059.04 136.67L1060.54 136.42L1062.05 136.17L1063.55 135.92L1065.06 135.67L1066.56 135.42L1068.07 135.16L1069.57 134.92L1071.08 134.67L1072.58 134.42L1074.09 134.17L1075.59 133.93L1077.10 133.68L1078.60 133.44L1080.10 133.20L1081.61 132.96L1083.11 132.72L1084.62 132.48L1086.12 132.25L1087.63 132.01L1089.13 131.78L1090.64 131.55L1092.14 131.33L1093.65 131.10L1095.15 130.88L1096.66 130.66L1098.16 130.44L1099.67 130.23L1101.17 130.01L1102.67 129.80L1104.18 129.60L1105.68 129.40L1107.19 129.20L1108.69 129.00L1110.20 128.81L1111.70 128.62L1113.21 128.44L1114.71 128.26L1116.22 128.08L1117.72 127.91L1119.23 127.74L1120.73 127.58L1122.23 127.42L1123.74 127.27L1125.24 127.12L1126.75 126.98L1128.25 126.84L1129.76 126.71L1131.26 126.58L1132.77 126.46L1134.27 126.34L1135.78 126.23L1137.28 126.12L1138.79 126.03L1140.29 125.93L1141.80 125.85L1143.30 125.77L1144.80 125.69L1146.31 125.63L1147.81 125.57L1149.32 125.52L1150.82 125.47L1152.33 125.43L1153.83 125.40L1155.34 125.38L1156.84 125.36L1158.35 125.35L1159.85 125.35L1161.36 125.36L1162.86 125.37L1164.37 125.39L1165.87 125.43L1167.37 125.46L1168.88 125.51L1170.38 125.57L1171.89 125.64L1173.39 125.71L1174.90 125.79L1176.40 125.89L1177.91 125.99L1179.41 126.10L1180.92 126.22L1182.42 126.35L1183.93 126.49L1185.43 126.64L1186.93 126.81L1188.44 126.98L1189.94 127.16L1191.45 127.35L1192.95 127.55L1194.46 127.76L1195.96 127.99L1197.47 128.22L1198.97 128.47L1200.48 128.72L1201.98 128.99L1203.49 129.27L1204.99 129.56L1206.50 129.87L1208.00 130.18L1208.00 130.60L1209.36 131.11L1210.75 131.63L1212.13 132.14L1213.49 132.65L1214.82 133.14L1216.10 133.60L1217.14 133.97L1218.16 134.32L1219.15 134.66L1220.12 134.98L1221.07 135.30L1222.00 135.60L1222.80 135.85L1223.57 136.09L1224.33 136.32L1225.09 136.55L1225.84 136.77L1226.60 137.00L1226.60 110.60L1226.90 150.50L1229.00 150.60L1229.00 149.89L1229.70 149.50L1230.40 149.29L1231.10 149.30L1231.80 149.52L1232.50 149.87L1233.20 150.29L1233.90 150.66L1234.60 150.91L1235.30 150.98L1236.00 150.87L1236.70 150.61L1237.40 150.27L1238.10 149.94L1238.80 149.68L1239.50 149.56L1240.20 149.59L1240.90 149.75L1241.60 150.01L1242.30 150.30L1243.00 150.55L1243.70 150.71L1244.40 150.74L1245.10 150.65L1245.80 150.46L1246.50 150.22L1247.20 149.99L1247.90 149.82L1248.60 149.75L1249.30 149.78L1250.00 149.91L1250.70 150.10L1251.40 150.30L1252.10 150.47L1252.80 150.56L1253.50 150.57L1254.20 150.50L1254.90 150.36L1255.60 150.19L1256.30 150.03L1257.00 149.92L1257.70 149.88L1258.40 149.92L1259.10 150.02L1259.80 150.15L1260.50 150.29L1261.20 150.40L1261.90 150.46L1262.60 150.46L1263.30 150.39L1264.00 150.29L1264.70 150.17L1265.40 150.07L1266.10 150.00L1266.80 149.98L1267.50 150.01L1268.20 150.08L1268.90 150.18L1269.60 150.27L1270.30 150.35L1271.00 150.38L1271.70 150.37L1272.40 150.33L1273.10 150.25L1273.80 150.17L1274.50 150.10L1275.20 150.06L1275.90 150.05L1276.60 150.07L1277.30 150.13L1278.00 150.20L1278.70 150.26L1279.40 150.31L1280.10 150.33L1280.80 150.32L1281.50 150.28L1282.20 150.23L1282.90 150.17L1283.60 150.12L1284.30 150.10L1285.00 150.09L1285.70 150.12L1286.40 150.16L1287.10 150.20L1287.80 150.25L1288.50 150.28L1289.20 150.29L1289.90 150.28L1290.60 150.25L1291.30 150.21L1292.00 150.18L1292.70 150.14L1293.40 150.13L1294.10 150.13L1294.80 150.14L1295.50 150.17L1296.20 150.21L1296.90 150.24L1297.60 150.26L1298.30 150.26L1299.00 150.25L1299.70 150.23L1300.50 150.30L1470.80 150.40" stroke="#e60012" stroke-dasharray="9.5 8.3"/>
<path d="M884.50 150.52L886.00 150.55L887.51 150.58L889.01 150.61L890.52 150.64L892.02 150.67L893.53 150.70L895.03 150.72L896.53 150.74L898.04 150.77L899.54 150.78L901.05 150.80L902.55 150.82L904.05 150.83L905.56 150.84L907.06 150.85L908.57 150.85L910.07 150.86L911.58 150.86L913.08 150.86L914.58 150.86L916.09 150.85L917.59 150.84L919.10 150.83L920.60 150.82L922.10 150.81L923.61 150.79L925.11 150.77L926.62 150.74L928.12 150.72L929.63 150.69L931.13 150.66L932.63 150.62L934.14 150.58L935.64 150.54L937.15 150.50L938.65 150.45L940.15 150.40L941.66 150.35L943.16 150.29L944.67 150.23L946.17 150.17L947.68 150.10L949.18 150.03L950.68 149.96L952.19 149.88L953.69 149.80L955.20 149.72L956.70 149.63L958.21 149.54L959.71 149.44L961.21 149.34L962.72 149.24L964.22 149.13L965.73 149.02L967.23 148.91L968.73 148.79L970.24 148.67L971.74 148.54L973.25 148.41L974.75 148.27L976.26 148.13L977.76 147.99L979.26 147.84L980.77 147.69L982.27 147.53L983.78 147.37L985.28 147.20L986.78 147.03L988.29 146.86L989.79 146.68L991.30 146.49L992.80 146.30L994.31 146.11L995.81 145.91L997.31 145.71L998.82 145.50L1000.32 145.29L1001.83 145.07L1003.33 144.85L1004.83 144.62L1006.34 144.40L1007.84 144.16L1009.35 143.93L1010.85 143.69L1012.36 143.45L1013.86 143.20L1015.36 142.95L1016.87 142.70L1018.37 142.44L1019.88 142.18L1021.38 141.92L1022.89 141.66L1024.39 141.39L1025.89 141.12L1027.40 140.85L1028.90 140.58L1030.41 140.31L1031.91 140.03L1033.41 139.75L1034.92 139.47L1036.42 139.19L1037.93 138.90L1039.43 138.62L1040.94 138.33L1042.44 138.04L1043.94 137.75L1045.45 137.46L1046.95 137.17L1048.46 136.88L1049.96 136.59L1051.46 136.30L1052.97 136.00L1054.47 135.71L1055.98 135.42L1057.48 135.12L1058.99 134.83L1060.49 134.54L1061.99 134.24L1063.50 133.95L1065.00 133.66L1066.51 133.37L1068.01 133.08L1069.51 132.79L1071.02 132.50L1072.52 132.21L1074.03 131.92L1075.53 131.64L1077.04 131.35L1078.54 131.07L1080.04 130.79L1081.55 130.51L1083.05 130.23L1084.56 129.95L1086.06 129.68L1087.57 129.41L1089.07 129.14L1090.57 128.87L1092.08 128.61L1093.58 128.34L1095.09 128.08L1096.59 127.83L1098.09 127.58L1099.60 127.33L1101.10 127.08L1102.61 126.84L1104.11 126.60L1105.62 126.36L1107.12 126.13L1108.62 125.90L1110.13 125.68L1111.63 125.46L1113.14 125.24L1114.64 125.03L1116.14 124.83L1117.65 124.63L1119.15 124.43L1120.66 124.24L1122.16 124.06L1123.67 123.88L1125.17 123.70L1126.67 123.54L1128.18 123.37L1129.68 123.22L1131.19 123.07L1132.69 122.93L1134.19 122.79L1135.70 122.66L1137.20 122.53L1138.71 122.42L1140.21 122.31L1141.72 122.21L1143.22 122.11L1144.72 122.02L1146.23 121.94L1147.73 121.87L1149.24 121.80L1150.74 121.75L1152.25 121.70L1153.75 121.66L1155.25 121.63L1156.76 121.60L1158.26 121.59L1159.77 121.58L1161.27 121.59L1162.77 121.60L1164.28 121.62L1165.78 121.65L1167.29 121.69L1168.79 121.74L1170.30 121.80L1171.80 121.88L1173.30 121.96L1174.81 122.05L1176.31 122.15L1177.82 122.27L1179.32 122.40L1180.82 122.54L1182.33 122.69L1183.83 122.86L1185.34 123.05L1186.84 123.24L1188.35 123.46L1189.85 123.69L1191.35 123.94L1192.86 124.20L1194.36 124.48L1195.87 124.79L1197.37 125.10L1198.87 125.44L1200.38 125.80L1201.88 126.18L1203.39 126.58L1204.89 127.00L1206.40 127.44L1207.90 127.91L1207.90 128.40L1209.29 129.04L1210.72 129.68L1212.15 130.33L1213.54 130.97L1214.84 131.59L1216.00 132.20L1216.73 132.62L1217.40 133.03L1218.02 133.44L1218.61 133.83L1219.20 134.22L1219.80 134.60L1220.35 134.93L1220.88 135.25L1221.42 135.57L1221.94 135.88L1222.47 136.19L1223.00 136.50L1223.00 107.40L1223.30 149.50L1226.00 150.00L1226.00 150.80L1226.70 150.63L1227.40 150.23L1228.10 149.73L1228.80 149.27L1229.50 149.00L1230.20 148.97L1230.90 149.17L1231.60 149.55L1232.30 149.98L1233.00 150.33L1233.70 150.51L1234.40 150.48L1235.10 150.25L1235.80 149.91L1236.50 149.55L1237.20 149.28L1237.90 149.18L1238.60 149.26L1239.30 149.49L1240.00 149.80L1240.70 150.09L1241.40 150.28L1242.10 150.32L1242.80 150.21L1243.50 149.99L1244.20 149.72L1244.90 149.50L1245.60 149.37L1246.30 149.37L1247.00 149.49L1247.70 149.70L1248.40 149.93L1249.10 150.10L1249.80 150.18L1250.50 150.15L1251.20 150.01L1251.90 149.83L1252.60 149.64L1253.30 149.51L1254.00 149.47L1254.70 149.53L1255.40 149.66L1256.10 149.82L1256.80 149.97L1257.50 150.06L1258.20 150.07L1258.90 150.00L1259.60 149.88L1260.30 149.74L1261.00 149.63L1261.70 149.57L1262.40 149.58L1263.10 149.65L1263.80 149.77L1264.50 149.88L1265.20 149.97L1265.90 150.00L1266.60 149.98L1267.30 149.90L1268.00 149.80L1268.70 149.71L1269.40 149.64L1270.10 149.63L1270.80 149.67L1271.50 149.74L1272.20 149.82L1272.90 149.90L1273.60 149.94L1274.30 149.94L1275.00 149.90L1275.70 149.83L1276.40 149.76L1277.10 149.70L1277.80 149.68L1278.50 149.69L1279.20 149.73L1279.90 149.79L1280.60 149.85L1281.30 149.89L1282.00 149.91L1282.70 149.89L1283.40 149.85L1284.10 149.79L1284.80 149.74L1285.50 149.71L1286.20 149.71L1286.90 149.73L1287.60 149.77L1288.30 149.82L1289.00 149.86L1289.70 149.88L1290.40 149.87L1291.10 149.85L1291.80 149.81L1292.50 149.77L1293.20 149.74L1293.90 149.73L1294.60 149.74L1295.30 149.77L1296.00 149.80L1296.70 149.83L1297.40 149.85L1298.10 149.86L1298.80 149.84L1299.50 149.82L1300.50 150.00L1470.80 150.30" stroke="#2a45a0" stroke-dasharray="17.8 3.3 6.6 3.3"/>
</g>
<g clip-path="url(#clipc)" fill="none" stroke-width="3.0" stroke-linejoin="round">
<path d="M114.00 402.02L115.50 401.75L117.00 401.48L118.50 401.21L120.00 400.94L121.50 400.66L123.00 400.39L124.50 400.11L126.00 399.83L127.50 399.54L129.00 399.25L130.50 398.96L132.00 398.67L133.50 398.37L135.00 398.06L136.50 397.76L138.00 397.44L139.50 397.12L141.00 396.80L142.50 396.47L144.00 396.13L145.50 395.79L147.00 395.43L148.50 395.08L150.00 394.71L151.50 394.34L153.00 393.95L154.50 393.56L156.00 393.16L157.50 392.76L159.00 392.34L160.50 391.91L162.00 391.47L163.50 391.02L165.00 390.56L166.50 390.09L168.00 389.61L169.50 389.12L171.00 388.61L172.50 388.10L174.00 387.57L175.50 387.02L177.00 386.47L178.50 385.90L180.00 385.31L181.50 384.72L183.00 384.10L184.50 383.48L186.00 382.84L187.50 382.18L189.00 381.51L190.50 380.82L192.00 380.11L193.50 379.39L195.00 378.65L196.50 377.90L198.00 377.12L199.50 376.33L201.00 375.52L202.50 374.69L204.00 373.85L205.50 372.99L207.00 372.11L208.50 371.22L210.00 370.32L211.50 369.41L213.00 368.48L214.50 367.55L216.00 366.60L217.50 365.65L219.00 364.69L220.50 363.72L222.00 362.75L223.50 361.77L225.00 360.79L226.50 359.81L228.00 358.83L229.50 357.84L231.00 356.86L232.50 355.88L234.00 354.90L235.50 353.93L237.00 352.96L238.50 351.99L240.00 351.03L241.50 350.08L243.00 349.13L244.50 348.20L246.00 347.27L247.50 346.34L249.00 345.43L250.50 344.53L252.00 343.63L253.50 342.75L255.00 341.87L256.50 341.00L258.00 340.15L259.50 339.30L261.00 338.47L262.50 337.64L264.00 336.83L265.50 336.02L267.00 335.23L268.50 334.45L270.00 333.67L271.50 332.91L273.00 332.15L274.50 331.40L276.00 330.67L277.50 329.94L279.00 329.22L280.50 328.52L282.00 327.82L283.50 327.13L285.00 326.45L286.50 325.77L288.00 325.11L289.50 324.46L291.00 323.81L292.50 323.17L294.00 322.55L295.50 321.92L297.00 321.31L298.50 320.71L300.00 320.11L301.50 319.53L303.00 318.95L304.50 318.37L306.00 317.81L307.50 317.25L309.00 316.70L310.50 316.16L312.00 315.63L313.50 315.10L315.00 314.58L316.50 314.07L318.00 313.56L319.50 313.07L321.00 312.58L322.50 312.09L324.00 311.61L325.50 311.14L327.00 310.68L328.50 310.22L330.00 309.77L331.50 309.32L333.00 308.88L334.50 308.45L336.00 308.02L337.50 307.60L339.00 307.19L340.50 306.78L342.00 306.37L343.50 305.97L345.00 305.58L346.50 305.20L348.00 304.82L349.50 304.44L351.00 304.08L352.50 303.72L354.00 303.37L355.50 303.03L357.00 302.70L358.50 302.38L360.00 302.08L361.50 301.78L363.00 301.49L364.50 301.22L366.00 300.96L367.50 300.71L369.00 300.47L370.50 300.25L372.00 300.05L373.50 299.86L375.00 299.68L376.50 299.52L378.00 299.38L379.50 299.25L381.00 299.14L382.50 299.05L384.00 298.98L385.50 298.93L387.00 298.90L388.50 298.88L390.00 298.89L391.50 298.92L393.00 298.97L394.50 299.04L396.00 299.13L397.50 299.25L399.00 299.39L400.50 299.56L402.00 299.74L403.50 299.96L405.00 300.20L406.50 300.46L408.00 300.76L409.50 301.07L411.00 301.42L412.50 301.79L414.00 302.20L415.50 302.63L417.00 303.09L418.50 303.58L418.50 304.00L419.33 304.60L420.20 305.19L421.07 305.76L421.94 306.35L422.79 306.94L423.59 307.56L424.34 308.21L425.00 308.90L425.54 309.56L426.03 310.25L426.48 310.96L426.89 311.69L427.27 312.44L427.61 313.21L427.92 314.00L428.20 314.80L428.45 315.67L428.65 316.57L428.81 317.49L428.93 318.43L429.02 319.39L429.11 320.35L429.20 321.33L429.30 322.30L429.40 323.36L429.49 324.44L429.56 325.54L429.62 326.65L429.69 327.76L429.77 328.86L429.87 329.94L430.00 331.00L430.13 331.96L430.26 332.90L430.39 333.83L430.54 334.74L430.71 335.66L430.92 336.59L431.18 337.53L431.50 338.50L431.98 339.74L432.55 341.02L433.19 342.32L433.89 343.64L434.63 344.96L435.38 346.25L436.15 347.50L436.90 348.70L437.61 349.74L438.36 350.74L439.14 351.70L439.93 352.64L440.70 353.57L441.45 354.52L442.16 355.49L442.80 356.50L443.37 357.52L443.92 358.55L444.43 359.60L444.91 360.66L445.36 361.73L445.78 362.81L446.16 363.90L446.50 365.00L446.79 366.09L447.04 367.20L447.24 368.31L447.41 369.43L447.56 370.56L447.70 371.69L447.84 372.84L448.00 374.00L448.14 375.28L448.24 376.63L448.32 378.01L448.40 379.39L448.50 380.73L448.65 382.00L448.88 383.17L449.20 384.20L449.49 384.87L449.81 385.55L450.17 386.20L450.55 386.81L450.95 387.34L451.37 387.77L451.78 388.06L452.20 388.20L452.59 388.11L453.00 387.81L453.43 387.36L453.86 386.84L454.28 386.32L454.71 385.88L455.11 385.58L455.50 385.50L455.92 385.66L456.33 386.01L456.74 386.50L457.13 387.10L457.50 387.79L457.86 388.52L458.19 389.27L458.50 390.00L458.87 391.04L459.17 392.20L459.42 393.44L459.64 394.74L459.85 396.08L460.05 397.42L460.26 398.74L460.50 400.00L460.76 401.19L461.01 402.37L461.28 403.55L461.54 404.72L461.81 405.89L462.07 407.06L462.34 408.23L462.60 409.40L463.53 404.82L464.47 401.55L465.40 398.88L466.33 396.80L467.27 395.39L468.20 394.74L469.13 394.91L470.07 395.97L471.00 397.98L471.93 401.00L472.87 405.21L473.80 412.45L474.73 408.82L475.67 406.18L476.60 403.98L477.53 402.24L478.47 401.01L479.40 400.34L480.33 400.30L481.27 400.94L482.20 402.29L483.13 404.41L484.07 407.43L485.00 412.74L485.93 410.43L486.87 408.76L487.80 407.37L488.73 406.27L489.67 405.49L490.60 405.08L491.53 405.06L492.47 405.49L493.40 406.36L494.33 407.73L495.27 409.67L496.20 413.08L497.13 411.40L498.07 410.17L499.00 409.15L499.93 408.34L500.87 407.76L501.80 407.44L502.73 407.41L503.67 407.70L504.60 408.32L505.53 409.29L506.47 410.67L507.40 413.11L508.33 411.89L509.27 411.00L510.20 410.27L511.13 409.69L512.07 409.27L513.00 409.05L513.93 409.04L514.87 409.26L515.80 409.71L516.73 410.43L517.67 411.45L518.60 413.24L519.53 412.33L520.47 411.68L521.40 411.14L522.33 410.72L523.27 410.43L524.20 410.28L525.13 410.29L526.07 410.48L527.00 410.85L527.93 411.42L528.87 412.22L529.80 413.61L530.73 412.83L531.67 412.27L532.60 411.79L533.53 411.41L534.47 411.13L535.40 410.97L536.33 410.94L537.27 411.04L538.20 411.30L539.13 411.71L540.07 412.30L541.00 413.37L530.60 411.60L531.30 411.67L532.00 411.84L532.70 412.07L533.40 412.34L534.10 412.59L534.80 412.79L535.50 412.92L536.20 412.95L536.90 412.88L537.60 412.74L538.30 412.53L539.00 412.31L539.70 412.11L540.40 411.95L541.10 411.86L541.80 411.86L542.50 411.93L543.20 412.08L543.90 412.27L544.60 412.47L545.30 412.66L546.00 412.80L546.70 412.87L547.40 412.87L548.10 412.81L548.80 412.68L549.50 412.52L550.20 412.36L550.90 412.21L551.60 412.10L552.30 412.06L553.00 412.07L553.70 412.15L554.40 412.27L555.10 412.42L555.80 412.58L556.50 412.71L557.20 412.81L557.90 412.85L558.60 412.84L559.30 412.77L560.00 412.67L560.70 412.55L561.40 412.42L562.10 412.32L562.80 412.25L563.50 412.23L564.20 412.26L564.90 412.33L565.60 412.43L566.30 412.55L567.00 412.66L567.70 412.76L568.40 412.82L569.10 412.84L569.80 412.82L570.50 412.77L571.20 412.68L571.90 412.59L572.60 412.50L573.30 412.43L574.00 412.39L574.70 412.39L575.40 412.42L576.10 412.48L576.80 412.56L577.50 412.66L578.20 412.74L578.90 412.81L579.60 412.85L580.30 412.86L581.00 412.84L581.70 412.79L582.40 412.72L583.10 412.65L583.80 412.59L584.50 412.54L585.20 412.52L585.90 412.53L586.60 412.56L587.30 412.61L588.00 412.68L588.70 412.75L589.40 412.81L590.10 412.86L590.80 412.89L591.50 412.89L592.20 412.87L592.90 412.82L593.60 412.77L594.30 412.72L595.00 412.68L595.70 412.65L596.40 412.64L597.10 412.65L597.80 412.68L598.50 412.73L599.20 412.78L599.90 412.84L600.60 412.85L601.30 412.85L602.00 412.83L602.70 412.79L603.40 412.74L604.10 412.67L604.80 412.60L605.50 412.52L606.20 412.46L606.90 412.41L607.60 412.37L608.30 412.35L609.00 412.34L609.70 412.34L610.40 412.35L611.10 412.36L611.80 412.36L612.50 412.34L613.20 412.32L613.90 412.28L614.60 412.22L615.30 412.16L616.00 412.10L616.70 412.04L617.40 411.98L618.10 411.94L618.80 411.91L619.50 411.89L620.20 411.88L620.90 411.88L621.60 411.87L622.30 411.87L623.00 411.86L623.70 411.84L624.40 411.81L625.10 411.77L625.80 411.72L626.50 411.66L627.20 411.61L627.90 411.56L628.60 411.51L629.30 411.47L630.00 411.44L630.70 411.39L631.40 411.34L632.10 411.30L632.80 411.26L633.50 411.22L634.20 411.17L634.90 411.11L635.60 411.04L636.30 410.97L637.00 410.89L637.70 410.81L638.40 410.73L639.10 410.65L639.80 410.58L640.50 410.51L641.20 410.45L641.90 410.40L642.60 410.35L643.30 410.30L644.00 410.25L644.70 410.21L645.40 410.15L646.10 410.09L646.80 410.02L647.50 409.95L648.20 409.88L648.90 409.80L649.60 409.72L650.30 409.65L651.00 409.58L651.70 409.51L652.40 409.45L653.10 409.40L653.80 409.35L654.50 409.30L655.20 409.25L655.90 409.19L656.60 409.13L657.30 409.07L658.00 409.01L658.70 408.93L659.40 408.86L660.10 408.78L660.80 408.70L661.50 408.61L662.20 408.53L662.90 408.45L663.60 408.38L664.30 408.31L665.00 408.24L665.70 408.17L666.40 408.10L667.10 408.03L667.80 407.95L668.50 407.87L669.20 407.79L669.90 407.71L670.60 407.62L671.30 407.54L672.00 407.45L672.70 407.37L673.40 407.29L674.10 407.21L674.80 407.14L675.50 407.06L676.20 406.99L676.90 406.92L677.60 406.85L678.30 406.78L679.00 406.70L679.70 406.62L680.40 406.54L681.10 406.46L681.80 406.37L682.50 406.29L683.20 406.20L683.90 406.12L684.60 406.04L685.30 405.97L686.00 405.89L686.70 405.82L687.40 405.75L688.10 405.68L688.80 405.60L689.50 405.53L690.20 405.45L690.90 405.37L691.60 405.29L692.30 405.21L693.00 405.12L693.70 405.04L694.40 404.96L695.10 404.88L695.80 404.80L696.50 404.72L697.20 404.65L697.90 404.58L698.60 404.50L699.30 404.43" stroke="#231815"/>
<path d="M114.00 402.61L115.51 402.35L117.01 402.08L118.52 401.80L120.02 401.52L121.53 401.22L123.03 400.92L124.54 400.62L126.05 400.31L127.55 399.99L129.06 399.66L130.56 399.33L132.07 398.99L133.57 398.64L135.08 398.29L136.58 397.93L138.09 397.57L139.60 397.20L141.10 396.82L142.61 396.44L144.11 396.05L145.62 395.66L147.12 395.26L148.63 394.86L150.14 394.45L151.64 394.03L153.15 393.61L154.65 393.19L156.16 392.76L157.66 392.33L159.17 391.89L160.67 391.44L162.18 390.99L163.69 390.54L165.19 390.09L166.70 389.62L168.20 389.16L169.71 388.69L171.21 388.22L172.72 387.74L174.23 387.26L175.73 386.78L177.24 386.29L178.74 385.80L180.25 385.30L181.75 384.80L183.26 384.30L184.76 383.80L186.27 383.29L187.78 382.78L189.28 382.27L190.79 381.76L192.29 381.24L193.80 380.72L195.30 380.20L196.81 379.67L198.32 379.15L199.82 378.62L201.33 378.09L202.83 377.55L204.34 377.02L205.84 376.48L207.35 375.95L208.85 375.41L210.36 374.87L211.87 374.33L213.37 373.78L214.88 373.24L216.38 372.70L217.89 372.15L219.39 371.61L220.90 371.06L222.41 370.51L223.91 369.96L225.42 369.42L226.92 368.87L228.43 368.32L229.93 367.77L231.44 367.22L232.95 366.68L234.45 366.13L235.96 365.58L237.46 365.03L238.97 364.49L240.47 363.94L241.98 363.40L243.48 362.85L244.99 362.31L246.50 361.77L248.00 361.23L249.51 360.69L251.01 360.15L252.52 359.61L254.02 359.08L255.53 358.54L257.04 358.01L258.54 357.48L260.05 356.95L261.55 356.43L263.06 355.90L264.56 355.38L266.07 354.86L267.57 354.34L269.08 353.83L270.59 353.32L272.09 352.81L273.60 352.30L275.10 351.80L276.61 351.30L278.11 350.80L279.62 350.31L281.13 349.82L282.63 349.33L284.14 348.85L285.64 348.37L287.15 347.89L288.65 347.42L290.16 346.95L291.66 346.49L293.17 346.03L294.68 345.57L296.18 345.12L297.69 344.67L299.19 344.23L300.70 343.79L302.20 343.36L303.71 342.93L305.22 342.50L306.72 342.09L308.23 341.67L309.73 341.26L311.24 340.86L312.74 340.46L314.25 340.07L315.75 339.68L317.26 339.30L318.77 338.93L320.27 338.56L321.78 338.20L323.28 337.84L324.79 337.49L326.29 337.15L327.80 336.81L329.31 336.48L330.81 336.15L332.32 335.83L333.82 335.52L335.33 335.22L336.83 334.92L338.34 334.63L339.85 334.35L341.35 334.07L342.86 333.80L344.36 333.54L345.87 333.29L347.37 333.04L348.88 332.81L350.38 332.58L351.89 332.35L353.40 332.14L354.90 331.93L356.41 331.74L357.91 331.55L359.42 331.37L360.92 331.20L362.43 331.03L363.94 330.88L365.44 330.73L366.95 330.60L368.45 330.47L369.96 330.35L371.46 330.24L372.97 330.14L374.47 330.05L375.98 329.97L377.49 329.90L378.99 329.84L380.50 329.79L382.00 329.75L383.51 329.72L385.01 329.70L386.52 329.69L388.03 329.69L389.53 329.70L391.04 329.72L392.54 329.75L394.05 329.79L395.55 329.85L397.06 329.91L398.56 329.99L400.07 330.07L401.58 330.17L403.08 330.28L404.59 330.40L406.09 330.53L407.60 330.68L409.10 330.83L410.61 331.00L412.12 331.18L413.62 331.37L415.13 331.58L416.63 331.79L418.14 332.02L419.64 332.26L421.15 332.51L422.65 332.78L424.16 333.06L425.67 333.35L427.17 333.66L428.68 333.97L430.18 334.30L431.69 334.65L433.19 335.01L434.70 335.38L434.70 335.30L436.14 336.01L437.63 336.72L439.14 337.42L440.63 338.13L442.09 338.84L443.49 339.55L444.80 340.27L446.00 341.00L446.82 341.56L447.61 342.13L448.35 342.71L449.05 343.29L449.71 343.87L450.34 344.43L450.94 344.98L451.50 345.50L451.89 345.84L452.26 346.14L452.61 346.42L452.94 346.70L453.26 347.00L453.56 347.34L453.84 347.73L454.10 348.20L454.50 349.25L454.82 350.53L455.06 351.99L455.26 353.57L455.43 355.21L455.60 356.87L455.78 358.48L456.00 360.00L456.24 361.41L456.46 362.83L456.69 364.25L456.92 365.67L457.17 367.06L457.42 368.42L457.70 369.74L458.00 371.00L458.25 372.04L458.48 373.09L458.71 374.12L458.96 375.12L459.24 376.08L459.58 376.97L460.00 377.78L460.50 378.50L461.04 379.05L461.65 379.52L462.32 379.93L463.03 380.29L463.77 380.61L464.52 380.91L465.27 381.20L466.00 381.50L466.74 381.77L467.52 381.98L468.32 382.16L469.12 382.33L469.90 382.52L470.66 382.74L471.36 383.03L472.00 383.40L472.55 383.84L473.05 384.33L473.52 384.87L473.95 385.45L474.35 386.06L474.74 386.69L475.12 387.34L475.50 388.00L475.91 388.75L476.30 389.54L476.67 390.35L477.02 391.19L477.36 392.05L477.68 392.92L477.99 393.81L478.30 394.70L478.62 395.69L478.92 396.70L479.20 397.73L479.47 398.78L479.73 399.84L479.99 400.89L480.24 401.95L480.50 403.00L480.76 404.05L481.01 405.09L481.27 406.14L481.51 407.20L481.76 408.25L482.00 409.30L482.25 410.35L482.50 411.40L482.20 410.00L483.62 405.58L485.03 401.58L486.45 397.92L487.87 394.74L489.28 392.26L490.70 390.72L492.12 390.37L493.53 391.43L494.95 394.13L496.37 398.66L497.78 405.37L499.20 417.28L500.62 412.60L502.03 408.30L503.45 404.32L504.87 400.78L506.28 397.90L507.70 395.89L509.12 394.98L510.53 395.39L511.95 397.31L513.37 400.94L514.78 406.60L516.20 417.07L517.62 413.41L519.03 410.06L520.45 406.95L521.87 404.20L523.28 401.96L524.70 400.41L526.12 399.74L527.53 400.11L528.95 401.68L530.37 404.60L531.78 409.13L533.20 417.48L534.62 414.46L536.03 411.70L537.45 409.14L538.87 406.87L540.28 405.02L541.70 403.74L543.12 403.17L544.53 403.46L545.95 404.73L547.37 407.11L548.78 410.80L550.20 417.62L551.62 415.23L553.03 413.04L554.45 411.00L555.87 409.20L557.28 407.72L558.70 406.69L560.12 406.21L561.53 406.40L562.95 407.36L564.37 409.19L565.78 412.04L567.20 417.33L568.62 415.27L570.03 413.37L571.45 411.60L572.87 410.03L574.28 408.73L575.70 407.80L577.12 407.33L578.53 407.43L579.95 408.17L581.37 409.63L582.78 411.95L584.20 416.31L585.62 414.65L587.03 413.11L588.45 411.68L589.87 410.41L591.28 409.36L592.70 408.61L594.12 408.23L595.53 408.30L596.95 408.89L598.37 410.06L599.78 411.93L601.20 415.44L602.62 414.03L604.03 412.74L605.45 411.52L606.87 410.44L608.28 409.53L609.70 408.86L611.12 408.50L612.53 408.51L613.95 408.94L615.37 409.83L616.78 411.29L618.20 414.09L619.62 412.95L621.03 411.89L622.45 410.90L623.87 410.01L625.28 409.27L626.70 408.72L628.12 408.41L629.53 408.39L630.95 408.71L632.37 409.41L633.78 410.56L635.20 412.77L636.62 411.80L638.03 410.90L639.45 410.06L640.87 409.31L642.28 408.66L643.70 408.18L645.12 407.90L646.53 407.85L647.95 408.08L649.37 408.62L650.78 409.53L652.20 411.31L653.62 410.52L655.03 409.79L656.45 409.11L657.87 408.49L659.28 407.98L660.70 407.60L662.12 407.40L663.53 407.39L664.95 407.63L666.37 408.12L667.78 408.93L669.20 410.49L660.00 407.80L660.70 407.81L661.40 407.92L662.10 408.12L662.80 408.37L663.50 408.65L664.20 408.91L664.90 409.13L665.60 409.28L666.30 409.34L667.00 409.31L667.70 409.17L668.40 408.95L669.10 408.65L669.80 408.31L670.50 407.95L671.20 407.60L671.90 407.29L672.60 407.03L673.30 406.85L674.00 406.75L674.70 406.74L675.40 406.80L676.10 406.92L676.80 407.08L677.50 407.25L678.20 407.42L678.90 407.55L679.60 407.63L680.30 407.65L681.00 407.58L681.70 407.44L682.40 407.23L683.10 406.98L683.80 406.70L684.50 406.40L685.20 406.11L685.90 405.84L686.60 405.62L687.30 405.45L688.00 405.34L688.70 405.28L689.40 405.28L690.10 405.32L690.80 405.39L691.50 405.47L692.20 405.54L692.90 405.59L693.60 405.61L694.30 405.58L695.00 405.50L695.70 405.37L696.40 405.20L697.10 405.00L697.80 404.77L698.50 404.53L699.20 404.30" stroke="#e60012" stroke-dasharray="9.5 8.3"/>
<path d="M114.00 401.96L115.50 401.74L117.01 401.51L118.51 401.27L120.01 401.02L121.51 400.77L123.02 400.51L124.52 400.24L126.02 399.97L127.52 399.69L129.03 399.40L130.53 399.11L132.03 398.81L133.54 398.50L135.04 398.18L136.54 397.86L138.04 397.53L139.55 397.20L141.05 396.85L142.55 396.51L144.06 396.15L145.56 395.79L147.06 395.42L148.56 395.04L150.07 394.66L151.57 394.27L153.07 393.87L154.57 393.47L156.08 393.06L157.58 392.64L159.08 392.22L160.59 391.79L162.09 391.35L163.59 390.91L165.09 390.46L166.60 390.00L168.10 389.54L169.60 389.07L171.11 388.60L172.61 388.11L174.11 387.63L175.61 387.13L177.12 386.63L178.62 386.12L180.12 385.61L181.62 385.09L183.13 384.56L184.63 384.03L186.13 383.49L187.64 382.95L189.14 382.40L190.64 381.84L192.14 381.28L193.65 380.71L195.15 380.13L196.65 379.55L198.15 378.96L199.66 378.37L201.16 377.77L202.66 377.16L204.17 376.55L205.67 375.93L207.17 375.31L208.67 374.68L210.18 374.05L211.68 373.41L213.18 372.77L214.69 372.13L216.19 371.49L217.69 370.85L219.19 370.20L220.70 369.55L222.20 368.91L223.70 368.26L225.20 367.62L226.71 366.97L228.21 366.33L229.71 365.70L231.22 365.06L232.72 364.43L234.22 363.80L235.72 363.18L237.23 362.56L238.73 361.95L240.23 361.35L241.74 360.75L243.24 360.16L244.74 359.57L246.24 358.99L247.75 358.41L249.25 357.84L250.75 357.28L252.25 356.71L253.76 356.16L255.26 355.60L256.76 355.05L258.27 354.51L259.77 353.96L261.27 353.42L262.77 352.88L264.28 352.35L265.78 351.81L267.28 351.28L268.78 350.76L270.29 350.23L271.79 349.71L273.29 349.19L274.80 348.68L276.30 348.16L277.80 347.65L279.30 347.14L280.81 346.63L282.31 346.13L283.81 345.62L285.32 345.12L286.82 344.62L288.32 344.13L289.82 343.63L291.33 343.14L292.83 342.66L294.33 342.18L295.83 341.70L297.34 341.24L298.84 340.78L300.34 340.33L301.85 339.89L303.35 339.46L304.85 339.03L306.35 338.62L307.86 338.22L309.36 337.82L310.86 337.43L312.36 337.05L313.87 336.68L315.37 336.32L316.87 335.97L318.38 335.62L319.88 335.28L321.38 334.95L322.88 334.63L324.39 334.31L325.89 334.00L327.39 333.70L328.90 333.40L330.40 333.11L331.90 332.83L333.40 332.56L334.91 332.29L336.41 332.02L337.91 331.77L339.41 331.52L340.92 331.27L342.42 331.03L343.92 330.80L345.43 330.57L346.93 330.35L348.43 330.13L349.93 329.91L351.44 329.71L352.94 329.50L354.44 329.30L355.95 329.11L357.45 328.92L358.95 328.73L360.45 328.55L361.96 328.37L363.46 328.20L364.96 328.02L366.46 327.86L367.97 327.69L369.47 327.53L370.97 327.38L372.48 327.23L373.98 327.09L375.48 326.95L376.98 326.82L378.49 326.70L379.99 326.59L381.49 326.48L382.99 326.39L384.50 326.30L386.00 326.22L387.50 326.15L389.01 326.09L390.51 326.05L392.01 326.01L393.51 325.99L395.02 325.98L396.52 325.98L398.02 326.00L399.53 326.03L401.03 326.08L402.53 326.14L404.03 326.21L405.54 326.30L407.04 326.41L408.54 326.53L410.04 326.68L411.55 326.83L413.05 327.01L414.55 327.21L416.06 327.42L417.56 327.66L419.06 327.91L420.56 328.19L422.07 328.49L423.57 328.80L425.07 329.14L426.58 329.51L428.08 329.89L429.58 330.30L431.08 330.73L432.59 331.19L434.09 331.67L435.59 332.18L437.09 332.71L438.60 333.27L440.10 333.86L440.10 334.20L441.20 334.99L442.34 335.77L443.49 336.54L444.64 337.32L445.76 338.10L446.82 338.91L447.81 339.74L448.70 340.60L449.39 341.35L450.03 342.10L450.64 342.86L451.19 343.64L451.71 344.44L452.18 345.28L452.61 346.16L453.00 347.10L453.38 348.29L453.67 349.56L453.87 350.89L454.03 352.27L454.16 353.69L454.28 355.13L454.42 356.57L454.60 358.00L454.82 359.60L455.01 361.26L455.21 362.96L455.41 364.66L455.62 366.35L455.87 367.99L456.16 369.55L456.50 371.00L456.79 372.11L457.10 373.22L457.42 374.31L457.76 375.36L458.13 376.34L458.54 377.22L458.99 377.98L459.50 378.60L459.88 378.93L460.29 379.19L460.72 379.39L461.17 379.55L461.63 379.68L462.09 379.79L462.55 379.89L463.00 380.00L463.43 380.08L463.88 380.12L464.32 380.13L464.77 380.13L465.21 380.14L465.65 380.17L466.08 380.25L466.50 380.40L466.97 380.64L467.45 380.93L467.91 381.27L468.37 381.65L468.81 382.07L469.23 382.52L469.63 383.00L470.00 383.50L470.41 384.16L470.78 384.88L471.11 385.65L471.42 386.46L471.70 387.31L471.97 388.19L472.24 389.09L472.50 390.00L472.81 391.14L473.08 392.34L473.34 393.59L473.59 394.87L473.82 396.17L474.04 397.47L474.27 398.75L474.50 400.00L474.72 401.19L474.94 402.37L475.15 403.55L475.36 404.72L475.57 405.89L475.78 407.06L475.99 408.23L476.20 409.40L475.50 408.70L476.87 402.11L478.25 397.51L479.62 393.81L480.99 391.01L482.37 389.23L483.74 388.58L485.12 389.19L486.49 391.16L487.86 394.57L489.24 399.50L490.61 406.24L491.98 417.57L493.31 410.83L494.64 405.94L495.97 401.90L497.29 398.71L498.62 396.46L499.95 395.27L501.28 395.26L502.61 396.52L503.93 399.12L505.26 403.15L506.59 408.86L507.92 418.87L509.20 413.29L510.48 409.21L511.77 405.83L513.05 403.14L514.34 401.22L515.62 400.18L516.90 400.09L518.19 401.04L519.47 403.09L520.75 406.31L522.04 410.91L523.32 419.02L524.56 414.17L525.81 410.63L527.05 407.68L528.29 405.33L529.54 403.65L530.78 402.72L532.02 402.62L533.26 403.41L534.51 405.15L535.75 407.90L536.99 411.84L538.24 418.81L539.45 414.82L540.66 411.90L541.87 409.47L543.09 407.53L544.30 406.13L545.51 405.34L546.72 405.23L547.93 405.85L549.15 407.24L550.36 409.46L551.57 412.65L552.78 418.31L553.96 414.82L555.14 412.25L556.33 410.11L557.51 408.38L558.69 407.13L559.87 406.40L561.05 406.26L562.23 406.75L563.42 407.91L564.60 409.78L565.78 412.49L566.96 417.34L568.12 414.38L569.29 412.21L570.45 410.39L571.61 408.93L572.77 407.87L573.93 407.26L575.09 407.14L576.26 407.55L577.42 408.54L578.58 410.13L579.74 412.42L580.90 416.53L582.06 414.02L583.21 412.17L584.36 410.63L585.51 409.39L586.66 408.49L587.82 407.97L588.97 407.87L590.12 408.23L591.27 409.06L592.43 410.41L593.58 412.36L594.73 415.85L595.87 413.72L597.01 412.14L598.16 410.82L599.30 409.75L600.44 408.97L601.58 408.51L602.73 408.40L603.87 408.68L605.01 409.36L606.15 410.47L607.30 412.08L608.44 415.00L609.57 413.14L610.71 411.77L611.84 410.61L612.97 409.68L614.11 408.99L615.24 408.57L616.37 408.46L617.50 408.68L618.64 409.25L619.77 410.19L620.90 411.57L622.04 414.06L623.16 412.49L624.29 411.32L625.41 410.33L626.54 409.53L627.66 408.93L628.79 408.56L629.91 408.44L631.04 408.60L632.16 409.05L633.29 409.80L634.41 410.92L635.54 412.97L636.66 411.56L637.79 410.50L638.91 409.61L640.04 408.87L641.16 408.31L642.29 407.95L643.41 407.82L644.54 407.92L645.66 408.28L646.79 408.91L647.91 409.85L649.04 411.60L650.16 410.46L651.29 409.62L652.41 408.91L653.54 408.35L654.66 407.93L655.79 407.69L656.91 407.64L658.04 407.80L659.16 408.17L660.29 408.78L661.41 409.66L662.54 411.23L650.00 408.30L650.70 408.33L651.40 408.48L652.10 408.72L652.80 409.02L653.50 409.34L654.20 409.62L654.90 409.84L655.60 409.97L656.30 409.98L657.00 409.88L657.70 409.67L658.40 409.38L659.10 409.02L659.80 408.64L660.50 408.28L661.20 407.96L661.90 407.72L662.60 407.57L663.30 407.52L664.00 407.56L664.70 407.68L665.40 407.86L666.10 408.07L666.80 408.28L667.50 408.45L668.20 408.57L668.90 408.61L669.60 408.57L670.30 408.43L671.00 408.22L671.70 407.94L672.40 407.64L673.10 407.33L673.80 407.04L674.50 406.79L675.20 406.61L675.90 406.49L676.60 406.45L677.30 406.47L678.00 406.54L678.70 406.64L679.40 406.76L680.10 406.86L680.80 406.93L681.50 406.96L682.20 406.92L682.90 406.83L683.60 406.68L684.30 406.48L685.00 406.25L685.70 406.00L686.40 405.76L687.10 405.54L687.80 405.36L688.50 405.22L689.20 405.14L689.90 405.11L690.60 405.11L691.30 405.16L692.00 405.21L692.70 405.27L693.40 405.32L694.10 405.33L694.80 405.31L695.50 405.25L696.20 405.14L696.90 404.99L697.60 404.81L698.30 404.62L699.00 404.42" stroke="#2a45a0" stroke-dasharray="17.8 3.3 6.6 3.3"/>
</g>
<g clip-path="url(#clipd)" fill="none" stroke-width="3.0" stroke-linejoin="round">
<path d="M884.50 363.12L886.01 363.24L887.51 363.36L889.02 363.47L890.53 363.59L892.04 363.71L893.54 363.83L895.05 363.95L896.56 364.07L898.07 364.19L899.57 364.31L901.08 364.43L902.59 364.56L904.10 364.69L905.60 364.82L907.11 364.96L908.62 365.09L910.13 365.24L911.63 365.38L913.14 365.53L914.65 365.69L916.15 365.85L917.66 366.01L919.17 366.18L920.68 366.36L922.18 366.54L923.69 366.73L925.20 366.93L926.71 367.13L928.21 367.34L929.72 367.56L931.23 367.79L932.74 368.03L934.24 368.27L935.75 368.53L937.26 368.79L938.77 369.06L940.27 369.34L941.78 369.64L943.29 369.94L944.79 370.26L946.30 370.58L947.81 370.92L949.32 371.27L950.82 371.63L952.33 372.01L953.84 372.39L955.35 372.79L956.85 373.19L958.36 373.60L959.87 374.02L961.38 374.45L962.88 374.89L964.39 375.34L965.90 375.79L967.41 376.25L968.91 376.71L970.42 377.18L971.93 377.65L973.43 378.13L974.94 378.61L976.45 379.09L977.96 379.57L979.46 380.06L980.97 380.55L982.48 381.04L983.99 381.52L985.49 382.01L987.00 382.50L988.51 382.99L990.02 383.47L991.52 383.95L993.03 384.43L994.54 384.91L996.05 385.38L997.55 385.84L999.06 386.30L1000.57 386.76L1002.07 387.21L1003.58 387.65L1005.09 388.09L1006.60 388.51L1008.10 388.93L1009.61 389.34L1011.12 389.74L1012.63 390.13L1014.13 390.52L1015.64 390.88L1017.15 391.24L1018.66 391.59L1020.16 391.93L1021.67 392.26L1023.18 392.58L1024.69 392.89L1026.19 393.19L1027.70 393.48L1029.21 393.76L1030.71 394.03L1032.22 394.29L1033.73 394.54L1035.24 394.79L1036.74 395.02L1038.25 395.25L1039.76 395.46L1041.27 395.67L1042.77 395.87L1044.28 396.07L1045.79 396.25L1047.30 396.43L1048.80 396.60L1050.31 396.76L1051.82 396.92L1053.33 397.06L1054.83 397.20L1056.34 397.34L1057.85 397.46L1059.35 397.58L1060.86 397.69L1062.37 397.80L1063.88 397.90L1065.38 397.99L1066.89 398.08L1068.40 398.16L1069.91 398.24L1071.41 398.31L1072.92 398.37L1074.43 398.43L1075.94 398.49L1077.44 398.53L1078.95 398.58L1080.46 398.62L1081.97 398.65L1083.47 398.68L1084.98 398.70L1086.49 398.72L1087.99 398.74L1089.50 398.75L1091.01 398.76L1092.52 398.76L1094.02 398.77L1095.53 398.76L1097.04 398.76L1098.55 398.75L1100.05 398.73L1101.56 398.72L1103.07 398.70L1104.58 398.67L1106.08 398.65L1107.59 398.62L1109.10 398.59L1110.61 398.55L1112.11 398.51L1113.62 398.47L1115.13 398.42L1116.63 398.37L1118.14 398.31L1119.65 398.25L1121.16 398.19L1122.66 398.12L1124.17 398.05L1125.68 397.98L1127.19 397.90L1128.69 397.81L1130.20 397.72L1131.71 397.63L1133.22 397.53L1134.72 397.42L1136.23 397.31L1137.74 397.20L1139.25 397.08L1140.75 396.96L1142.26 396.83L1143.77 396.69L1145.27 396.55L1146.78 396.41L1148.29 396.26L1149.80 396.10L1151.30 395.94L1152.81 395.77L1154.32 395.59L1155.83 395.41L1157.33 395.23L1158.84 395.04L1160.35 394.84L1161.86 394.63L1163.36 394.42L1164.87 394.20L1166.38 393.98L1167.89 393.75L1169.39 393.51L1170.90 393.26L1170.90 393.00L1171.79 392.78L1172.70 392.56L1173.60 392.34L1174.51 392.11L1175.41 391.89L1176.29 391.67L1177.16 391.44L1178.00 391.20L1178.73 390.99L1179.45 390.79L1180.15 390.58L1180.85 390.37L1181.53 390.15L1182.20 389.92L1182.85 389.67L1183.50 389.40L1184.10 389.12L1184.69 388.82L1185.26 388.51L1185.83 388.19L1186.38 387.85L1186.93 387.51L1187.47 387.16L1188.00 386.80L1188.51 386.46L1189.01 386.11L1189.51 385.76L1190.01 385.40L1190.48 385.03L1190.94 384.64L1191.38 384.23L1191.80 383.80L1192.20 383.33L1192.58 382.84L1192.94 382.33L1193.28 381.80L1193.61 381.26L1193.92 380.69L1194.21 380.10L1194.50 379.50L1194.81 378.77L1195.10 378.02L1195.37 377.23L1195.62 376.43L1195.85 375.60L1196.07 374.75L1196.29 373.88L1196.50 373.00L1196.73 371.95L1196.94 370.86L1197.13 369.74L1197.30 368.60L1197.48 367.44L1197.65 366.29L1197.82 365.14L1198.00 364.00L1199.30 330.00L1199.80 266.00L1200.50 330.00L1200.67 333.72L1200.84 337.52L1201.00 341.31L1201.18 345.04L1201.37 348.62L1201.60 352.00L1201.79 354.56L1201.99 357.04L1202.19 359.42L1202.42 361.72L1202.69 363.91L1203.00 366.00L1203.27 367.59L1203.55 369.12L1203.85 370.60L1204.19 372.00L1204.57 373.31L1205.00 374.50L1205.36 375.33L1205.75 376.12L1206.16 376.86L1206.59 377.54L1207.04 378.12L1207.50 378.60L1207.83 378.88L1208.17 379.12L1208.52 379.32L1208.88 379.47L1209.24 379.56L1209.60 379.60L1210.00 379.57L1210.41 379.47L1210.83 379.32L1211.24 379.10L1211.63 378.83L1212.00 378.50L1212.51 377.88L1212.97 377.09L1213.39 376.18L1213.78 375.17L1214.15 374.10L1214.50 373.00L1214.94 371.45L1215.32 369.78L1215.66 368.00L1215.96 366.10L1216.24 364.11L1216.50 362.00L1216.82 358.78L1217.06 355.23L1217.26 351.48L1217.43 347.62L1217.60 343.76L1217.80 340.00L1218.60 309.20L1219.40 340.00L1219.42 340.00L1219.43 340.00L1219.45 340.00L1219.47 340.00L1219.48 340.00L1219.50 340.00L1220.33 358.96L1221.17 367.53L1222.00 370.71L1222.83 371.57L1223.67 371.70L1224.50 371.70L1224.83 371.83L1225.17 371.99L1225.51 372.14L1225.84 372.27L1226.17 372.33L1226.50 372.30L1226.94 372.11L1227.39 371.79L1227.83 371.35L1228.25 370.81L1228.64 370.19L1229.00 369.50L1229.56 367.77L1229.96 365.55L1230.24 362.99L1230.48 360.27L1230.71 357.55L1231.00 355.00L1232.20 337.40L1233.40 355.00L1233.64 356.91L1233.86 358.90L1234.07 360.90L1234.31 362.80L1234.61 364.53L1235.00 366.00L1235.29 366.82L1235.60 367.64L1235.94 368.39L1236.30 369.01L1236.65 369.44L1237.00 369.60L1237.33 369.47L1237.68 369.09L1238.03 368.54L1238.37 367.88L1238.70 367.17L1239.00 366.50L1239.36 365.57L1239.68 364.53L1239.96 363.42L1240.24 362.26L1240.51 361.11L1240.80 360.00L1242.00 352.00L1243.20 360.00L1243.44 361.07L1243.66 362.24L1243.87 363.40L1244.12 364.47L1244.42 365.37L1244.80 366.00L1245.05 366.23L1245.33 366.42L1245.62 366.55L1245.93 366.63L1246.22 366.65L1246.50 366.60L1246.86 366.40L1247.20 366.05L1247.53 365.59L1247.86 365.07L1248.18 364.52L1248.50 364.00L1248.87 363.39L1249.22 362.74L1249.57 362.06L1249.91 361.37L1250.25 360.68L1250.60 360.00L1252.50 352.90L1252.50 352.00L1253.00 355.10L1253.50 357.28L1254.00 359.11L1254.50 360.68L1255.00 362.00L1255.50 363.11L1256.00 364.01L1256.50 364.71L1257.00 365.23L1257.50 365.56L1258.00 365.71L1258.50 365.70L1259.00 365.53L1259.50 365.21L1260.00 364.76L1260.50 364.17L1261.00 363.47L1261.50 362.66L1262.00 361.76L1262.50 360.77L1263.00 359.70L1263.50 358.54L1264.00 357.31L1264.50 355.95L1265.00 354.15L1265.50 355.98L1266.00 357.27L1266.50 358.35L1267.00 359.26L1267.50 360.04L1268.00 360.69L1268.50 361.22L1269.00 361.62L1269.50 361.92L1270.00 362.10L1270.50 362.20L1271.00 362.19L1271.50 362.09L1272.00 361.91L1272.50 361.63L1273.00 361.28L1273.50 360.86L1274.00 360.38L1274.50 359.83L1275.00 359.24L1275.50 358.59L1276.00 357.89L1276.50 357.14L1277.00 356.31L1277.50 355.22L1278.00 356.33L1278.50 357.12L1279.00 357.77L1279.50 358.33L1280.00 358.81L1280.50 359.21L1281.00 359.53L1281.50 359.78L1282.00 359.97L1282.50 360.08L1283.00 360.13L1283.50 360.12L1284.00 360.06L1284.50 359.93L1285.00 359.76L1285.50 359.53L1286.00 359.27L1286.50 358.96L1287.00 358.61L1287.50 358.23L1288.00 357.82L1288.50 357.38L1289.00 356.91L1289.50 356.38L1290.00 355.69L1290.50 356.37L1291.00 356.85L1291.50 357.25L1292.00 357.59L1292.50 357.88L1293.00 358.12L1293.50 358.32L1294.00 358.47L1294.50 358.57L1295.00 358.64L1295.50 358.66L1296.00 358.65L1296.50 358.60L1297.00 358.51L1297.50 358.39L1298.00 358.25L1298.50 358.07L1299.00 357.86L1299.50 357.64L1300.00 357.39L1300.50 357.14L1301.00 356.88L1301.50 356.59L1302.00 356.27L1302.50 355.84L1303.00 356.30L1303.50 356.62L1304.00 356.89L1304.50 357.12L1305.00 357.33L1305.50 357.50L1306.00 357.64L1306.50 357.75L1307.00 357.84L1307.50 357.90L1308.00 357.93L1308.50 357.94L1309.00 357.92L1309.50 357.89L1310.00 357.83L1310.50 357.75L1311.00 357.65L1311.50 357.53L1312.00 357.40L1312.50 357.25L1313.00 357.09L1313.50 356.92L1314.00 356.73L1314.50 356.52L1315.00 356.24L1315.50 356.54L1316.00 356.75L1316.50 356.93L1317.00 357.08L1317.50 357.22L1318.00 357.33L1318.50 357.42L1319.00 357.50L1319.50 357.56L1320.00 357.60L1320.50 357.62L1321.00 357.63L1321.50 357.62L1322.00 357.59L1322.50 357.55L1323.00 357.50L1323.50 357.44L1324.00 357.36L1324.50 357.27L1325.00 357.17L1325.50 357.06L1326.00 356.95L1326.50 356.82L1327.00 356.67L1327.50 356.48L1328.00 356.68L1328.50 356.83L1329.00 356.95L1329.50 357.06L1330.00 357.15L1330.50 357.23L1331.00 357.29L1331.50 357.34L1332.00 357.38L1332.50 357.41L1333.00 357.43L1333.50 357.43L1334.00 357.43L1334.50 357.41L1335.00 357.38L1335.50 357.35L1336.00 357.30L1336.50 357.25L1337.00 357.19L1337.50 357.12L1338.00 357.04L1338.50 356.96L1339.00 356.87L1339.50 356.77L1340.00 356.64L1340.50 356.80L1341.00 356.92L1341.50 357.02L1342.00 357.11L1342.50 357.20L1343.00 357.27L1343.50 357.34L1344.00 357.39L1344.50 357.44L1345.00 357.48L1345.50 357.51L1346.00 357.53L1346.50 357.55L1347.00 357.56L1347.50 357.56L1348.00 357.55L1348.50 357.54L1349.00 357.52L1349.50 357.49L1350.00 357.46L1350.50 357.43L1351.00 357.38L1351.50 357.34L1352.00 357.28L1352.50 357.21L1353.00 357.33L1353.50 357.42L1354.00 357.50L1354.50 357.57L1355.00 357.64L1355.50 357.70L1356.00 357.75L1356.50 357.80L1357.00 357.84L1357.50 357.87L1358.00 357.90L1358.50 357.92L1359.00 357.94L1359.50 357.95L1360.00 357.95L1360.50 357.95L1361.00 357.95L1361.50 357.94L1362.00 357.92L1362.50 357.91L1363.00 357.89L1363.50 357.86L1364.00 357.83L1364.50 357.80L1365.00 357.74L1365.50 357.84L1366.00 357.91L1366.50 357.97L1367.00 358.03L1367.50 358.09L1368.00 358.14L1368.50 358.18L1369.00 358.22L1369.50 358.26L1370.00 358.29L1370.50 358.31L1371.00 358.33L1371.50 358.35L1372.00 358.36L1372.50 358.37L1373.00 358.38L1373.50 358.38L1374.00 358.37L1374.50 358.37L1375.00 358.36L1375.50 358.35L1376.00 358.33L1376.50 358.32L1377.00 358.29L1377.50 358.26L1378.00 358.33L1378.50 358.39L1379.00 358.45L1379.50 358.50L1380.00 358.54L1380.50 358.59L1381.00 358.62L1381.50 358.66L1382.00 358.69L1382.50 358.72L1383.00 358.74L1383.50 358.76L1384.00 358.78L1384.50 358.79L1385.00 358.80L1385.50 358.81L1386.00 358.82L1386.50 358.82L1387.00 358.82L1387.50 358.82L1388.00 358.81L1388.50 358.81L1389.00 358.80L1389.50 358.78L1390.00 358.76L1390.50 358.82L1391.00 358.87L1391.50 358.92L1392.00 358.96L1392.50 359.00L1393.00 359.04L1393.50 359.07L1394.00 359.10L1394.50 359.13L1395.00 359.16L1395.50 359.18L1396.00 359.20L1396.50 359.22L1397.00 359.23L1397.50 359.25L1398.00 359.26L1398.50 359.27L1399.00 359.27L1399.50 359.28L1400.00 359.28L1400.50 359.28L1401.00 359.28L1401.50 359.27L1402.00 359.27L1402.50 359.25L1403.00 359.31L1403.50 359.35L1404.00 359.39L1404.50 359.43L1405.00 359.46L1405.50 359.50L1406.00 359.53L1406.50 359.56L1407.00 359.58L1407.50 359.61L1408.00 359.63L1408.50 359.65L1409.00 359.67L1409.50 359.68L1410.00 359.70L1410.50 359.71L1411.00 359.72L1411.50 359.73L1412.00 359.74L1412.50 359.74L1413.00 359.75L1413.50 359.75L1414.00 359.75L1414.50 359.75L1415.00 359.74L1415.50 359.79L1416.00 359.83L1416.50 359.86L1417.00 359.90L1417.50 359.93L1418.00 359.96L1418.50 359.99L1419.00 360.01L1419.50 360.04L1420.00 360.06L1420.50 360.08L1421.00 360.10L1421.50 360.12L1422.00 360.14L1422.50 360.16L1423.00 360.18L1423.50 360.19L1424.00 360.20L1424.50 360.21L1425.00 360.22L1425.50 360.23L1426.00 360.24L1426.50 360.25L1427.00 360.25L1427.50 360.25L1428.00 360.30L1428.50 360.33L1429.00 360.37L1429.50 360.40L1430.00 360.43L1430.50 360.46L1431.00 360.49L1431.50 360.51L1432.00 360.54L1432.50 360.56L1433.00 360.59L1433.50 360.61L1434.00 360.63L1434.50 360.65L1435.00 360.67L1435.50 360.68L1436.00 360.70L1436.50 360.71L1437.00 360.73L1437.50 360.74L1438.00 360.75L1438.50 360.76L1439.00 360.77L1439.50 360.78L1440.00 360.78L1440.50 360.82L1441.00 360.85L1441.50 360.88L1442.00 360.91L1442.50 360.94L1443.00 360.97L1443.50 361.00L1444.00 361.02L1444.50 361.05L1445.00 361.07L1445.50 361.09L1446.00 361.12L1446.50 361.14L1447.00 361.16L1447.50 361.17L1448.00 361.19L1448.50 361.21L1449.00 361.22L1449.50 361.24L1450.00 361.25L1450.50 361.27L1451.00 361.28L1451.50 361.29L1452.00 361.30L1452.50 361.31L1453.00 361.34L1453.50 361.37L1454.00 361.40L1454.50 361.43L1455.00 361.46L1455.50 361.48L1456.00 361.51L1456.50 361.53L1457.00 361.56L1457.50 361.58L1458.00 361.60L1458.50 361.62L1459.00 361.64L1459.50 361.66L1460.00 361.68L1460.50 361.70L1461.00 361.72L1461.50 361.74L1462.00 361.75L1462.50 361.77L1463.00 361.78L1463.50 361.80L1464.00 361.81L1464.50 361.82L1465.00 361.83L1465.50 361.86L1466.00 361.89L1466.50 361.92L1467.00 361.95L1467.50 361.97L1468.00 362.00L1468.50 362.02L1469.00 362.05L1469.50 362.07L1470.00 362.09L1470.50 362.11" stroke="#231815"/>
<path d="M884.50 362.98L886.01 363.03L887.51 363.09L889.02 363.15L890.53 363.23L892.03 363.31L893.54 363.40L895.04 363.50L896.55 363.61L898.06 363.72L899.56 363.84L901.07 363.97L902.58 364.11L904.08 364.25L905.59 364.40L907.10 364.56L908.60 364.72L910.11 364.89L911.61 365.06L913.12 365.24L914.63 365.43L916.13 365.62L917.64 365.82L919.15 366.02L920.65 366.23L922.16 366.45L923.67 366.66L925.17 366.89L926.68 367.12L928.18 367.35L929.69 367.59L931.20 367.83L932.70 368.08L934.21 368.33L935.72 368.58L937.22 368.84L938.73 369.10L940.24 369.36L941.74 369.63L943.25 369.90L944.75 370.17L946.26 370.45L947.77 370.73L949.27 371.01L950.78 371.30L952.29 371.58L953.79 371.87L955.30 372.16L956.81 372.45L958.31 372.75L959.82 373.04L961.33 373.34L962.83 373.64L964.34 373.94L965.84 374.24L967.35 374.54L968.86 374.84L970.36 375.14L971.87 375.45L973.38 375.75L974.88 376.05L976.39 376.36L977.90 376.66L979.40 376.96L980.91 377.26L982.41 377.56L983.92 377.86L985.43 378.16L986.93 378.46L988.44 378.76L989.95 379.05L991.45 379.35L992.96 379.64L994.47 379.93L995.97 380.22L997.48 380.51L998.98 380.79L1000.49 381.07L1002.00 381.35L1003.50 381.63L1005.01 381.90L1006.52 382.18L1008.02 382.44L1009.53 382.71L1011.04 382.97L1012.54 383.23L1014.05 383.48L1015.55 383.73L1017.06 383.98L1018.57 384.22L1020.07 384.46L1021.58 384.69L1023.09 384.93L1024.59 385.15L1026.10 385.38L1027.61 385.60L1029.11 385.82L1030.62 386.03L1032.12 386.24L1033.63 386.44L1035.14 386.65L1036.64 386.84L1038.15 387.04L1039.66 387.23L1041.16 387.42L1042.67 387.60L1044.18 387.78L1045.68 387.96L1047.19 388.14L1048.69 388.31L1050.20 388.47L1051.71 388.64L1053.21 388.80L1054.72 388.95L1056.23 389.11L1057.73 389.26L1059.24 389.40L1060.75 389.54L1062.25 389.68L1063.76 389.82L1065.26 389.95L1066.77 390.08L1068.28 390.21L1069.78 390.33L1071.29 390.45L1072.80 390.56L1074.30 390.68L1075.81 390.79L1077.32 390.89L1078.82 390.99L1080.33 391.09L1081.83 391.19L1083.34 391.28L1084.85 391.37L1086.35 391.46L1087.86 391.54L1089.37 391.62L1090.87 391.70L1092.38 391.77L1093.89 391.84L1095.39 391.91L1096.90 391.97L1098.40 392.03L1099.91 392.09L1101.42 392.15L1102.92 392.20L1104.43 392.25L1105.94 392.29L1107.44 392.34L1108.95 392.37L1110.46 392.41L1111.96 392.44L1113.47 392.48L1114.97 392.50L1116.48 392.53L1117.99 392.55L1119.49 392.57L1121.00 392.58L1122.51 392.60L1124.01 392.60L1125.52 392.61L1127.03 392.62L1128.53 392.62L1130.04 392.61L1131.55 392.61L1133.05 392.60L1134.56 392.59L1136.06 392.58L1137.57 392.56L1139.08 392.54L1140.58 392.52L1142.09 392.50L1143.60 392.47L1145.10 392.44L1146.61 392.41L1148.12 392.37L1149.62 392.33L1151.13 392.29L1152.63 392.25L1154.14 392.20L1155.65 392.15L1157.15 392.10L1158.66 392.05L1160.17 391.99L1161.67 391.93L1163.18 391.87L1164.69 391.80L1166.19 391.73L1167.70 391.66L1169.20 391.59L1170.71 391.51L1172.22 391.44L1173.72 391.36L1175.23 391.27L1176.74 391.19L1178.24 391.10L1179.75 391.01L1181.26 390.92L1182.76 390.82L1184.27 390.72L1185.77 390.62L1187.28 390.52L1188.79 390.41L1190.29 390.31L1191.80 390.20L1191.80 390.40L1193.21 390.21L1194.62 390.03L1196.04 389.85L1197.45 389.67L1198.86 389.48L1200.26 389.28L1201.64 389.05L1203.00 388.80L1204.28 388.54L1205.56 388.26L1206.84 387.97L1208.10 387.67L1209.34 387.34L1210.54 387.01L1211.70 386.66L1212.80 386.30L1213.66 386.00L1214.50 385.69L1215.32 385.37L1216.11 385.05L1216.87 384.71L1217.61 384.36L1218.32 383.99L1219.00 383.60L1219.57 383.27L1220.14 382.96L1220.68 382.65L1221.21 382.33L1221.70 381.97L1222.17 381.55L1222.61 381.07L1223.00 380.50L1223.52 379.38L1223.91 378.03L1224.20 376.49L1224.42 374.83L1224.60 373.10L1224.77 371.34L1224.96 369.63L1225.20 368.00L1226.40 289.30L1227.60 355.00L1227.88 357.13L1228.12 359.33L1228.36 361.52L1228.65 363.65L1229.01 365.67L1229.50 367.50L1229.95 368.83L1230.44 370.11L1230.97 371.33L1231.57 372.44L1232.24 373.41L1233.00 374.20L1233.71 374.73L1234.51 375.17L1235.35 375.51L1236.22 375.75L1237.08 375.88L1237.90 375.90L1238.70 375.81L1239.50 375.60L1240.30 375.29L1241.08 374.88L1241.81 374.38L1242.50 373.80L1243.32 372.86L1244.08 371.73L1244.77 370.43L1245.40 369.02L1245.97 367.53L1246.50 366.00L1247.06 363.93L1247.50 361.67L1247.85 359.29L1248.15 356.84L1248.45 354.39L1248.80 352.00L1250.40 332.00L1250.90 338.11L1251.40 342.56L1251.90 346.43L1252.40 349.91L1252.90 353.04L1253.40 355.86L1253.90 358.40L1254.40 360.66L1254.90 362.65L1255.40 364.37L1255.90 365.83L1256.40 367.03L1256.90 367.98L1257.40 368.67L1257.90 369.12L1258.40 369.33L1258.90 369.30L1259.40 369.05L1259.90 368.57L1260.40 367.88L1260.90 366.98L1261.40 365.89L1261.90 364.61L1262.40 363.15L1262.90 361.52L1263.40 359.73L1263.90 357.79L1264.40 355.69L1264.90 353.46L1265.40 351.07L1265.90 348.52L1266.40 345.78L1266.90 342.72L1267.40 338.61L1267.90 342.97L1268.40 346.15L1268.90 348.92L1269.40 351.40L1269.90 353.64L1270.40 355.69L1270.90 357.54L1271.40 359.19L1271.90 360.65L1272.40 361.92L1272.90 363.00L1273.40 363.90L1273.90 364.62L1274.40 365.16L1274.90 365.52L1275.40 365.71L1275.90 365.73L1276.40 365.58L1276.90 365.28L1277.40 364.83L1277.90 364.23L1278.40 363.48L1278.90 362.61L1279.40 361.60L1279.90 360.47L1280.40 359.22L1280.90 357.87L1281.40 356.41L1281.90 354.84L1282.40 353.16L1282.90 351.37L1283.40 349.43L1283.90 347.27L1284.40 344.35L1284.90 347.52L1285.40 349.84L1285.90 351.87L1286.40 353.69L1286.90 355.35L1287.40 356.84L1287.90 358.19L1288.40 359.36L1288.90 360.39L1289.40 361.28L1289.90 362.04L1290.40 362.67L1290.90 363.16L1291.40 363.53L1291.90 363.77L1292.40 363.89L1292.90 363.88L1293.40 363.76L1293.90 363.52L1294.40 363.17L1294.90 362.71L1295.40 362.15L1295.90 361.50L1296.40 360.75L1296.90 359.91L1297.40 358.98L1297.90 357.98L1298.40 356.90L1298.90 355.74L1299.40 354.50L1299.90 353.17L1300.40 351.75L1300.90 350.16L1301.40 348.01L1301.90 350.29L1302.40 351.95L1302.90 353.39L1303.40 354.69L1303.90 355.87L1304.40 356.93L1304.90 357.89L1305.40 358.74L1305.90 359.50L1306.40 360.15L1306.90 360.71L1307.40 361.17L1307.90 361.54L1308.40 361.81L1308.90 362.00L1309.40 362.09L1309.90 362.09L1310.40 362.00L1310.90 361.84L1311.40 361.59L1311.90 361.26L1312.40 360.86L1312.90 360.39L1313.40 359.84L1313.90 359.23L1314.40 358.56L1314.90 357.83L1315.40 357.05L1315.90 356.20L1316.40 355.30L1316.90 354.33L1317.40 353.29L1317.90 352.13L1318.40 350.56L1318.90 352.23L1319.40 353.45L1319.90 354.52L1320.40 355.48L1320.90 356.35L1321.40 357.13L1321.90 357.84L1322.40 358.47L1322.90 359.03L1323.40 359.52L1323.90 359.94L1324.40 360.28L1324.90 360.56L1325.40 360.77L1325.90 360.91L1326.40 360.98L1326.90 360.99L1327.40 360.93L1327.90 360.81L1328.40 360.64L1328.90 360.40L1329.40 360.11L1329.90 359.76L1330.40 359.37L1330.90 358.92L1331.40 358.43L1331.90 357.90L1332.40 357.32L1332.90 356.70L1333.40 356.03L1333.90 355.31L1334.40 354.54L1334.90 353.68L1335.40 352.51L1335.90 353.75L1336.40 354.66L1336.90 355.45L1337.40 356.16L1337.90 356.80L1338.40 357.39L1338.90 357.92L1339.40 358.39L1339.90 358.81L1340.40 359.17L1340.90 359.48L1341.40 359.74L1341.90 359.95L1342.40 360.10L1342.90 360.21L1343.40 360.26L1343.90 360.27L1344.40 360.23L1344.90 360.14L1345.40 360.01L1345.90 359.83L1346.40 359.62L1346.90 359.36L1347.40 359.06L1347.90 358.73L1348.40 358.36L1348.90 357.96L1349.40 357.53L1349.90 357.06L1350.40 356.56L1350.90 356.03L1351.40 355.45L1351.90 354.80L1352.40 353.93L1352.90 354.86L1353.40 355.54L1353.90 356.14L1354.40 356.68L1354.90 357.17L1355.40 357.61L1355.90 358.01L1356.40 358.37L1356.90 358.69L1357.40 358.97L1357.90 359.21L1358.40 359.41L1358.90 359.57L1359.40 359.69L1359.90 359.77L1360.40 359.82L1360.90 359.83L1361.40 359.80L1361.90 359.74L1362.40 359.64L1362.90 359.52L1363.40 359.35L1363.90 359.16L1364.40 358.94L1364.90 358.69L1365.40 358.42L1365.90 358.12L1366.40 357.79L1366.90 357.45L1367.40 357.08L1367.90 356.68L1368.40 356.24L1368.90 355.76L1369.40 355.10L1369.90 355.82L1370.40 356.35L1370.90 356.81L1371.40 357.23L1371.90 357.62L1372.40 357.96L1372.90 358.28L1373.40 358.56L1373.90 358.81L1374.40 359.04L1374.90 359.23L1375.40 359.39L1375.90 359.52L1376.40 359.62L1376.90 359.70L1377.40 359.74L1377.90 359.76L1378.40 359.75L1378.90 359.71L1379.40 359.64L1379.90 359.55L1380.40 359.44L1380.90 359.30L1381.40 359.14L1381.90 358.95L1382.40 358.75L1382.90 358.53L1383.40 358.28L1383.90 358.02L1384.40 357.74L1384.90 357.43L1385.40 357.10L1385.90 356.73L1386.40 356.23L1386.90 356.79L1387.40 357.20L1387.90 357.56L1388.40 357.89L1388.90 358.19L1389.40 358.46L1389.90 358.71L1390.40 358.94L1390.90 359.14L1391.40 359.31L1391.90 359.47L1392.40 359.60L1392.90 359.70L1393.40 359.79L1393.90 359.85L1394.40 359.89L1394.90 359.91L1395.40 359.90L1395.90 359.88L1396.40 359.83L1396.90 359.76L1397.40 359.68L1397.90 359.57L1398.40 359.45L1398.90 359.31L1399.40 359.16L1399.90 358.99L1400.40 358.81L1400.90 358.61L1401.40 358.40L1401.90 358.18L1402.40 357.93L1402.90 357.65L1403.40 357.26L1403.90 357.71L1404.40 358.05L1404.90 358.34L1405.40 358.61L1405.90 358.86L1406.40 359.09L1406.90 359.29L1407.40 359.48L1407.90 359.65L1408.40 359.80L1408.90 359.93L1409.40 360.04L1409.90 360.14L1410.40 360.22L1410.90 360.28L1411.40 360.32L1411.90 360.35L1412.40 360.35L1412.90 360.35L1413.40 360.32L1413.90 360.28L1414.40 360.22L1414.90 360.15L1415.40 360.07L1415.90 359.97L1416.40 359.86L1416.90 359.74L1417.40 359.60L1417.90 359.45L1418.40 359.29L1418.90 359.11L1419.40 358.92L1419.90 358.71L1420.40 358.40L1420.90 358.77L1421.40 359.04L1421.90 359.28L1422.40 359.50L1422.90 359.70L1423.40 359.88L1423.90 360.05L1424.40 360.21L1424.90 360.35L1425.40 360.47L1425.90 360.58L1426.40 360.68L1426.90 360.76L1427.40 360.83L1427.90 360.88L1428.40 360.92L1428.90 360.94L1429.40 360.96L1429.90 360.96L1430.40 360.94L1430.90 360.91L1431.40 360.88L1431.90 360.83L1432.40 360.76L1432.90 360.69L1433.40 360.61L1433.90 360.51L1434.40 360.41L1434.90 360.30L1435.40 360.17L1435.90 360.04L1436.40 359.89L1436.90 359.72L1437.40 359.48L1437.90 359.78L1438.40 360.00L1438.90 360.20L1439.40 360.38L1439.90 360.55L1440.40 360.71L1440.90 360.85L1441.40 360.98L1441.90 361.10L1442.40 361.20L1442.90 361.30L1443.40 361.38L1443.90 361.45L1444.40 361.51L1444.90 361.56L1445.40 361.60L1445.90 361.63L1446.40 361.64L1446.90 361.65L1447.40 361.64L1447.90 361.63L1448.40 361.60L1448.90 361.56L1449.40 361.52L1449.90 361.46L1450.40 361.40L1450.90 361.33L1451.40 361.25L1451.90 361.16L1452.40 361.07L1452.90 360.96L1453.40 360.85L1453.90 360.71L1454.40 360.53L1454.90 360.77L1455.40 360.96L1455.90 361.12L1456.40 361.28L1456.90 361.42L1457.40 361.55L1457.90 361.67L1458.40 361.78L1458.90 361.88L1459.40 361.97L1459.90 362.06L1460.40 362.13L1460.90 362.19L1461.40 362.25L1461.90 362.29L1462.40 362.33L1462.90 362.36L1463.40 362.37L1463.90 362.38L1464.40 362.38L1464.90 362.37L1465.40 362.36L1465.90 362.33L1466.40 362.30L1466.90 362.26L1467.40 362.21L1467.90 362.16L1468.40 362.10L1468.90 362.03L1469.40 361.96L1469.90 361.88L1470.40 361.79" stroke="#e60012" stroke-dasharray="9.5 8.3"/>
<path d="M884.50 362.98L886.01 363.04L887.51 363.10L889.02 363.18L890.53 363.27L892.03 363.36L893.54 363.47L895.04 363.58L896.55 363.69L898.06 363.82L899.56 363.96L901.07 364.10L902.58 364.25L904.08 364.40L905.59 364.56L907.10 364.73L908.60 364.91L910.11 365.09L911.61 365.28L913.12 365.48L914.63 365.68L916.13 365.89L917.64 366.10L919.15 366.32L920.65 366.55L922.16 366.78L923.67 367.01L925.17 367.25L926.68 367.50L928.18 367.75L929.69 368.00L931.20 368.26L932.70 368.52L934.21 368.79L935.72 369.06L937.22 369.34L938.73 369.61L940.24 369.90L941.74 370.18L943.25 370.47L944.75 370.76L946.26 371.05L947.77 371.35L949.27 371.65L950.78 371.95L952.29 372.26L953.79 372.56L955.30 372.87L956.81 373.18L958.31 373.49L959.82 373.80L961.33 374.12L962.83 374.43L964.34 374.75L965.84 375.07L967.35 375.38L968.86 375.70L970.36 376.02L971.87 376.34L973.38 376.66L974.88 376.98L976.39 377.30L977.90 377.61L979.40 377.93L980.91 378.25L982.41 378.56L983.92 378.88L985.43 379.19L986.93 379.51L988.44 379.82L989.95 380.13L991.45 380.43L992.96 380.74L994.47 381.04L995.97 381.34L997.48 381.64L998.98 381.94L1000.49 382.23L1002.00 382.52L1003.50 382.81L1005.01 383.10L1006.52 383.38L1008.02 383.65L1009.53 383.93L1011.04 384.20L1012.54 384.47L1014.05 384.73L1015.55 384.99L1017.06 385.24L1018.57 385.49L1020.07 385.74L1021.58 385.98L1023.09 386.21L1024.59 386.45L1026.10 386.68L1027.61 386.90L1029.11 387.12L1030.62 387.34L1032.12 387.55L1033.63 387.76L1035.14 387.97L1036.64 388.17L1038.15 388.37L1039.66 388.56L1041.16 388.75L1042.67 388.94L1044.18 389.12L1045.68 389.30L1047.19 389.47L1048.69 389.64L1050.20 389.81L1051.71 389.97L1053.21 390.13L1054.72 390.29L1056.23 390.44L1057.73 390.59L1059.24 390.73L1060.75 390.88L1062.25 391.01L1063.76 391.15L1065.26 391.28L1066.77 391.40L1068.28 391.53L1069.78 391.65L1071.29 391.76L1072.80 391.87L1074.30 391.98L1075.81 392.09L1077.32 392.19L1078.82 392.29L1080.33 392.38L1081.83 392.48L1083.34 392.56L1084.85 392.65L1086.35 392.73L1087.86 392.81L1089.37 392.88L1090.87 392.96L1092.38 393.02L1093.89 393.09L1095.39 393.15L1096.90 393.21L1098.40 393.27L1099.91 393.32L1101.42 393.37L1102.92 393.41L1104.43 393.46L1105.94 393.50L1107.44 393.53L1108.95 393.57L1110.46 393.60L1111.96 393.62L1113.47 393.65L1114.97 393.67L1116.48 393.69L1117.99 393.70L1119.49 393.72L1121.00 393.72L1122.51 393.73L1124.01 393.73L1125.52 393.74L1127.03 393.73L1128.53 393.73L1130.04 393.72L1131.55 393.71L1133.05 393.70L1134.56 393.68L1136.06 393.66L1137.57 393.64L1139.08 393.61L1140.58 393.59L1142.09 393.56L1143.60 393.52L1145.10 393.49L1146.61 393.45L1148.12 393.41L1149.62 393.37L1151.13 393.32L1152.63 393.27L1154.14 393.22L1155.65 393.17L1157.15 393.11L1158.66 393.05L1160.17 392.99L1161.67 392.93L1163.18 392.86L1164.69 392.79L1166.19 392.72L1167.70 392.65L1169.20 392.57L1170.71 392.49L1172.22 392.41L1173.72 392.33L1175.23 392.25L1176.74 392.16L1178.24 392.07L1179.75 391.98L1181.26 391.88L1182.76 391.79L1184.27 391.69L1185.77 391.59L1187.28 391.48L1188.79 391.38L1190.29 391.27L1191.80 391.16L1191.80 391.30L1193.21 391.11L1194.62 390.93L1196.04 390.75L1197.45 390.57L1198.86 390.38L1200.26 390.18L1201.64 389.95L1203.00 389.70L1204.29 389.44L1205.61 389.16L1206.92 388.87L1208.22 388.56L1209.48 388.24L1210.67 387.91L1211.79 387.56L1212.80 387.20L1213.43 386.95L1214.02 386.71L1214.58 386.47L1215.11 386.21L1215.61 385.95L1216.09 385.66L1216.55 385.35L1217.00 385.00L1217.42 384.65L1217.82 384.29L1218.21 383.91L1218.57 383.51L1218.91 383.08L1219.23 382.60L1219.53 382.08L1219.80 381.50L1220.16 380.41L1220.42 379.13L1220.61 377.72L1220.74 376.20L1220.84 374.63L1220.94 373.04L1221.05 371.49L1221.20 370.00L1222.20 287.20L1223.20 355.00L1223.46 357.15L1223.67 359.37L1223.88 361.59L1224.14 363.73L1224.50 365.73L1225.00 367.50L1225.46 368.66L1225.97 369.76L1226.53 370.79L1227.14 371.71L1227.80 372.52L1228.50 373.20L1229.12 373.66L1229.79 374.06L1230.49 374.38L1231.20 374.62L1231.91 374.76L1232.60 374.80L1233.27 374.73L1233.95 374.56L1234.63 374.29L1235.29 373.94L1235.92 373.51L1236.50 373.00L1237.21 372.17L1237.86 371.16L1238.45 370.01L1239.00 368.74L1239.51 367.39L1240.00 366.00L1240.59 363.97L1241.10 361.72L1241.54 359.33L1241.95 356.86L1242.36 354.39L1242.80 352.00L1244.80 328.00L1245.30 335.34L1245.80 340.69L1246.30 345.32L1246.80 349.44L1247.30 353.12L1247.80 356.38L1248.30 359.25L1248.80 361.74L1249.30 363.84L1249.80 365.57L1250.30 366.92L1250.80 367.91L1251.30 368.54L1251.80 368.82L1252.30 368.76L1252.80 368.36L1253.30 367.64L1253.80 366.61L1254.30 365.28L1254.80 363.68L1255.30 361.80L1255.80 359.68L1256.30 357.31L1256.80 354.71L1257.30 351.89L1257.80 348.83L1258.30 345.49L1258.80 341.75L1259.30 336.67L1259.80 342.19L1260.30 346.21L1260.80 349.71L1261.30 352.82L1261.80 355.60L1262.30 358.03L1262.80 360.14L1263.30 361.96L1263.80 363.50L1264.30 364.75L1264.80 365.73L1265.30 366.44L1265.80 366.87L1266.30 367.04L1266.80 366.96L1267.30 366.62L1267.80 366.04L1268.30 365.23L1268.80 364.20L1269.30 362.95L1269.80 361.51L1270.30 359.87L1270.80 358.06L1271.30 356.07L1271.80 353.91L1272.30 351.56L1272.80 349.01L1273.30 346.16L1273.80 342.30L1274.30 346.41L1274.80 349.39L1275.30 351.98L1275.80 354.28L1276.30 356.33L1276.80 358.15L1277.30 359.75L1277.80 361.14L1278.30 362.30L1278.80 363.25L1279.30 363.98L1279.80 364.52L1280.30 364.84L1280.80 364.97L1281.30 364.91L1281.80 364.65L1282.30 364.22L1282.80 363.61L1283.30 362.83L1283.80 361.89L1284.30 360.80L1284.80 359.56L1285.30 358.19L1285.80 356.68L1286.30 355.04L1286.80 353.27L1287.30 351.34L1287.80 349.18L1288.30 346.25L1288.80 349.36L1289.30 351.61L1289.80 353.57L1290.30 355.31L1290.80 356.86L1291.30 358.24L1291.80 359.45L1292.30 360.50L1292.80 361.39L1293.30 362.10L1293.80 362.65L1294.30 363.04L1294.80 363.27L1295.30 363.36L1295.80 363.30L1296.30 363.09L1296.80 362.75L1297.30 362.27L1297.80 361.67L1298.30 360.94L1298.80 360.09L1299.30 359.14L1299.80 358.08L1300.30 356.92L1300.80 355.66L1301.30 354.29L1301.80 352.81L1302.30 351.14L1302.80 348.90L1303.30 351.25L1303.80 352.95L1304.30 354.43L1304.80 355.75L1305.30 356.92L1305.80 357.95L1306.30 358.87L1306.80 359.65L1307.30 360.32L1307.80 360.86L1308.30 361.28L1308.80 361.58L1309.30 361.77L1309.80 361.84L1310.30 361.79L1310.80 361.64L1311.30 361.38L1311.80 361.02L1312.30 360.56L1312.80 360.01L1313.30 359.36L1313.80 358.63L1314.30 357.82L1314.80 356.94L1315.30 355.97L1315.80 354.93L1316.30 353.79L1316.80 352.51L1317.30 350.79L1317.80 352.59L1318.30 353.91L1318.80 355.05L1319.30 356.06L1319.80 356.96L1320.30 357.76L1320.80 358.47L1321.30 359.08L1321.80 359.59L1322.30 360.01L1322.80 360.34L1323.30 360.58L1323.80 360.73L1324.30 360.78L1324.80 360.75L1325.30 360.64L1325.80 360.44L1326.30 360.17L1326.80 359.81L1327.30 359.39L1327.80 358.90L1328.30 358.34L1328.80 357.71L1329.30 357.03L1329.80 356.28L1330.30 355.48L1330.80 354.60L1331.30 353.61L1331.80 352.27L1332.30 353.68L1332.80 354.70L1333.30 355.58L1333.80 356.37L1334.30 357.07L1334.80 357.70L1335.30 358.25L1335.80 358.73L1336.30 359.13L1336.80 359.46L1337.30 359.72L1337.80 359.91L1338.30 360.02L1338.80 360.07L1339.30 360.05L1339.80 359.97L1340.30 359.82L1340.80 359.61L1341.30 359.33L1341.80 359.01L1342.30 358.62L1342.80 358.19L1343.30 357.71L1343.80 357.17L1344.30 356.60L1344.80 355.97L1345.30 355.28L1345.80 354.51L1346.30 353.47L1346.80 354.57L1347.30 355.37L1347.80 356.06L1348.30 356.68L1348.80 357.24L1349.30 357.73L1349.80 358.17L1350.30 358.55L1350.80 358.87L1351.30 359.13L1351.80 359.34L1352.30 359.50L1352.80 359.59L1353.30 359.64L1353.80 359.63L1354.30 359.57L1354.80 359.46L1355.30 359.29L1355.80 359.09L1356.30 358.83L1356.80 358.54L1357.30 358.20L1357.80 357.83L1358.30 357.41L1358.80 356.96L1359.30 356.47L1359.80 355.93L1360.30 355.33L1360.80 354.51L1361.30 355.38L1361.80 356.02L1362.30 356.57L1362.80 357.07L1363.30 357.51L1363.80 357.91L1364.30 358.26L1364.80 358.56L1365.30 358.82L1365.80 359.03L1366.30 359.20L1366.80 359.33L1367.30 359.41L1367.80 359.45L1368.30 359.44L1368.80 359.40L1369.30 359.31L1369.80 359.19L1370.30 359.02L1370.80 358.83L1371.30 358.60L1371.80 358.33L1372.30 358.03L1372.80 357.71L1373.30 357.35L1373.80 356.96L1374.30 356.53L1374.80 356.06L1375.30 355.40L1375.80 356.10L1376.30 356.61L1376.80 357.06L1377.30 357.46L1377.80 357.81L1378.30 358.13L1378.80 358.42L1379.30 358.66L1379.80 358.87L1380.30 359.05L1380.80 359.18L1381.30 359.29L1381.80 359.36L1382.30 359.39L1382.80 359.39L1383.30 359.36L1383.80 359.29L1384.30 359.20L1384.80 359.07L1385.30 358.91L1385.80 358.73L1386.30 358.52L1386.80 358.28L1387.30 358.02L1387.80 357.74L1388.30 357.43L1388.80 357.09L1389.30 356.70L1389.80 356.18L1390.30 356.76L1390.80 357.18L1391.30 357.56L1391.80 357.90L1392.30 358.21L1392.80 358.48L1393.30 358.73L1393.80 358.94L1394.30 359.13L1394.80 359.29L1395.30 359.42L1395.80 359.52L1396.30 359.60L1396.80 359.64L1397.30 359.66L1397.80 359.65L1398.30 359.62L1398.80 359.56L1399.30 359.47L1399.80 359.36L1400.30 359.23L1400.80 359.08L1401.30 358.90L1401.80 358.71L1402.30 358.50L1402.80 358.26L1403.30 358.00L1403.80 357.71L1404.30 357.30L1404.80 357.77L1405.30 358.13L1405.80 358.44L1406.30 358.72L1406.80 358.98L1407.30 359.21L1407.80 359.41L1408.30 359.59L1408.80 359.75L1409.30 359.89L1409.80 360.00L1410.30 360.09L1410.80 360.16L1411.30 360.20L1411.80 360.22L1412.30 360.22L1412.80 360.19L1413.30 360.15L1413.80 360.09L1414.30 360.00L1414.80 359.90L1415.30 359.78L1415.80 359.64L1416.30 359.49L1416.80 359.32L1417.30 359.13L1417.80 358.92L1418.30 358.68L1418.80 358.35L1419.30 358.75L1419.80 359.05L1420.30 359.31L1420.80 359.54L1421.30 359.75L1421.80 359.94L1422.30 360.12L1422.80 360.27L1423.30 360.40L1423.80 360.52L1424.30 360.61L1424.80 360.69L1425.30 360.74L1425.80 360.78L1426.30 360.80L1426.80 360.80L1427.30 360.78L1427.80 360.75L1428.30 360.70L1428.80 360.63L1429.30 360.55L1429.80 360.45L1430.30 360.34L1430.80 360.22L1431.30 360.08L1431.80 359.92L1432.30 359.75L1432.80 359.56L1433.30 359.28L1433.80 359.62L1434.30 359.86L1434.80 360.08L1435.30 360.28L1435.80 360.46L1436.30 360.63L1436.80 360.77L1437.30 360.91L1437.80 361.02L1438.30 361.12L1438.80 361.20L1439.30 361.27L1439.80 361.32L1440.30 361.36L1440.80 361.38L1441.30 361.38L1441.80 361.38L1442.30 361.35L1442.80 361.31L1443.30 361.26L1443.80 361.20L1444.30 361.12L1444.80 361.03L1445.30 360.93L1445.80 360.82L1446.30 360.70L1446.80 360.56L1447.30 360.40L1447.80 360.17L1448.30 360.45L1448.80 360.67L1449.30 360.85L1449.80 361.02L1450.30 361.18L1450.80 361.32L1451.30 361.45L1451.80 361.56L1452.30 361.66L1452.80 361.75L1453.30 361.83L1453.80 361.89L1454.30 361.94L1454.80 361.97L1455.30 361.99L1455.80 362.00L1456.30 362.00L1456.80 361.98L1457.30 361.95L1457.80 361.91L1458.30 361.86L1458.80 361.80L1459.30 361.73L1459.80 361.65L1460.30 361.56L1460.80 361.46L1461.30 361.35L1461.80 361.22L1462.30 361.03L1462.80 361.27L1463.30 361.46L1463.80 361.62L1464.30 361.77L1464.80 361.90L1465.30 362.03L1465.80 362.14L1466.30 362.24L1466.80 362.33L1467.30 362.41L1467.80 362.47L1468.30 362.53L1468.80 362.57L1469.30 362.61L1469.80 362.63L1470.30 362.64L1470.80 362.64" stroke="#2a45a0" stroke-dasharray="17.8 3.3 6.6 3.3"/>
</g>
<g clip-path="url(#clipe)" fill="none" stroke-width="3.0" stroke-linejoin="round">
<path d="M114.00 662.90L420.00 662.60L426.00 661.00L427.60 659.50L428.30 552.30L428.70 667.20L430.50 664.50L432.50 662.60L446.50 662.00L447.50 648.80L448.20 670.00L449.50 664.50L452.00 662.20L456.00 662.50L459.00 661.00L460.80 659.90L462.50 664.50L465.00 663.30L470.00 662.60L476.00 662.20L483.00 663.50L490.00 662.60L699.50 662.90" stroke="#231815"/>
<path d="M114.00 662.90L453.50 662.70L455.30 661.50L455.90 623.70L456.40 668.10L458.50 664.00L462.00 662.40L470.00 662.80L476.00 661.50L480.00 665.00L484.00 663.30L492.00 662.50L505.00 663.30L520.00 662.60L699.50 662.90" stroke="#e60012" stroke-dasharray="9.5 8.3"/>
<path d="M114.00 662.90L449.50 662.70L451.40 661.50L452.10 620.10L452.60 667.70L454.50 664.50L458.00 662.60L466.00 662.80L471.00 661.00L473.60 659.50L476.00 663.00L481.00 663.60L490.00 662.60L500.00 663.30L515.00 662.60L699.50 662.90" stroke="#2a45a0" stroke-dasharray="17.8 3.3 6.6 3.3"/>
</g>
<rect x="114.00" y="1.50" width="585.50" height="154.80" fill="none" stroke="#474544" stroke-width="3.0"/>
<path d="M231.10 156.30V148.70M231.10 1.50V9.10M348.20 156.30V148.70M348.20 1.50V9.10M465.30 156.30V148.70M465.30 1.50V9.10M582.40 156.30V148.70M582.40 1.50V9.10M114.00 101.02H121.60M699.50 101.02H691.90M114.00 45.73H121.60M699.50 45.73H691.90" stroke="#474544" stroke-width="2.9" fill="none"/>
<rect x="884.50" y="1.50" width="586.30" height="154.80" fill="none" stroke="#474544" stroke-width="3.0"/>
<path d="M1001.76 156.30V148.70M1001.76 1.50V9.10M1119.02 156.30V148.70M1119.02 1.50V9.10M1236.28 156.30V148.70M1236.28 1.50V9.10M1353.54 156.30V148.70M1353.54 1.50V9.10M884.50 153.70H889.30M1470.80 153.70H1466.00M884.50 110.60H889.30M1470.80 110.60H1466.00M884.50 67.00H889.30M1470.80 67.00H1466.00M884.50 22.40H889.30M1470.80 22.40H1466.00" stroke="#474544" stroke-width="2.9" fill="none"/>
<rect x="114.00" y="266.70" width="585.50" height="154.40" fill="none" stroke="#474544" stroke-width="3.0"/>
<path d="M231.10 421.10V413.50M231.10 266.70V274.30M348.20 421.10V413.50M348.20 266.70V274.30M465.30 421.10V413.50M465.30 266.70V274.30M582.40 421.10V413.50M582.40 266.70V274.30M114.00 345.50H121.60M699.50 345.50H691.90M114.00 276.90H118.80M699.50 276.90H694.70M114.00 311.30H118.80M699.50 311.30H694.70M114.00 379.80H118.80M699.50 379.80H694.70M114.00 414.30H118.80M699.50 414.30H694.70" stroke="#474544" stroke-width="2.9" fill="none"/>
<rect x="884.50" y="266.80" width="586.30" height="154.30" fill="none" stroke="#474544" stroke-width="3.0"/>
<path d="M1001.76 421.10V413.50M1001.76 266.80V274.40M1119.02 421.10V413.50M1119.02 266.80V274.40M1236.28 421.10V413.50M1236.28 266.80V274.40M1353.54 421.10V413.50M1353.54 266.80V274.40M884.50 272.00H892.10M1470.80 272.00H1463.20M884.50 290.62H889.30M1470.80 290.62H1466.00M884.50 309.24H889.30M1470.80 309.24H1466.00M884.50 327.86H889.30M1470.80 327.86H1466.00M884.50 346.48H889.30M1470.80 346.48H1466.00M884.50 365.10H889.30M1470.80 365.10H1466.00M884.50 383.72H889.30M1470.80 383.72H1466.00M884.50 402.34H889.30M1470.80 402.34H1466.00" stroke="#474544" stroke-width="2.9" fill="none"/>
<rect x="114.00" y="532.40" width="585.50" height="154.80" fill="none" stroke="#474544" stroke-width="3.0"/>
<path d="M231.10 687.20V679.60M231.10 532.40V540.00M348.20 687.20V679.60M348.20 532.40V540.00M465.30 687.20V679.60M465.30 532.40V540.00M582.40 687.20V679.60M582.40 532.40V540.00M114.00 584.00H121.60M699.50 584.00H691.90M114.00 568.35H118.80M699.50 568.35H694.70M114.00 559.19H118.80M699.50 559.19H694.70M114.00 552.69H118.80M699.50 552.69H694.70M114.00 547.65H118.80M699.50 547.65H694.70M114.00 543.54H118.80M699.50 543.54H694.70M114.00 540.05H118.80M699.50 540.05H694.70M114.00 537.04H118.80M699.50 537.04H694.70M114.00 534.38H118.80M699.50 534.38H694.70M114.00 620.35H118.80M699.50 620.35H694.70M114.00 611.19H118.80M699.50 611.19H694.70M114.00 604.69H118.80M699.50 604.69H694.70M114.00 599.65H118.80M699.50 599.65H694.70M114.00 595.54H118.80M699.50 595.54H694.70M114.00 592.05H118.80M699.50 592.05H694.70M114.00 589.04H118.80M699.50 589.04H694.70M114.00 586.38H118.80M699.50 586.38H694.70M114.00 672.35H118.80M699.50 672.35H694.70M114.00 663.19H118.80M699.50 663.19H694.70M114.00 656.69H118.80M699.50 656.69H694.70M114.00 651.65H118.80M699.50 651.65H694.70M114.00 647.54H118.80M699.50 647.54H694.70M114.00 644.05H118.80M699.50 644.05H694.70M114.00 641.04H118.80M699.50 641.04H694.70M114.00 638.38H118.80M699.50 638.38H694.70M114.00 636.00H118.80M699.50 636.00H694.70" stroke="#474544" stroke-width="2.9" fill="none"/>
<path d="M888.9 546.2H935" stroke="#231815" stroke-width="3.2"/>
<path d="M888.9 586.3H935" stroke="#e60012" stroke-width="3.2" stroke-dasharray="9.5 8.3"/>
<path d="M888.9 626.1H935" stroke="#2a45a0" stroke-width="3.2" stroke-dasharray="17.8 3.3 6.6 3.3"/>
<g fill="#000" stroke="#fff" stroke-width="0.45" opacity="0.999" style="font-family:'Liberation Serif', serif;font-kerning:none">
<text transform="translate(138.16,38.91) scale(0.01809,0.01809)" font-size="2048" stroke-width="24.87">(</text>
<text transform="translate(151.71,38.80) scale(1.2434,1)" font-size="34.00">a</text>
<text transform="translate(171.45,38.91) scale(0.01809,0.01809)" font-size="2048" stroke-width="24.87">)</text>
<text transform="translate(913.47,40.28) scale(0.01793,0.01793)" font-size="2048" stroke-width="25.09">(</text>
<text transform="translate(928.10,39.90) scale(1.1461,1)" font-size="34.00">b</text>
<text transform="translate(948.50,40.28) scale(0.01793,0.01793)" font-size="2048" stroke-width="25.09">)</text>
<text transform="translate(138.46,302.84) scale(0.01826,0.01826)" font-size="2048" stroke-width="24.65">(</text>
<text transform="translate(151.44,302.50) scale(1.1294,1)" font-size="34.00">c</text>
<text transform="translate(169.24,302.84) scale(0.01826,0.01826)" font-size="2048" stroke-width="24.65">)</text>
<text transform="translate(913.41,304.91) scale(0.01809,0.01809)" font-size="2048" stroke-width="24.87">(</text>
<text transform="translate(926.68,304.40) scale(1.1526,1)" font-size="34.00">d</text>
<text transform="translate(948.45,304.91) scale(0.01809,0.01809)" font-size="2048" stroke-width="24.87">)</text>
<text transform="translate(138.22,568.98) scale(0.01793,0.01793)" font-size="2048" stroke-width="25.09">(</text>
<text transform="translate(150.94,568.70) scale(1.1761,1)" font-size="34.00">e</text>
<text transform="translate(169.50,568.98) scale(0.01793,0.01793)" font-size="2048" stroke-width="25.09">)</text>
<text transform="translate(64.16,58.30) scale(1.1342,1)" font-size="34.50">10</text>
<text transform="translate(83.80,113.70) scale(1.1000,1)" font-size="34.50">5</text>
<text transform="translate(83.96,169.40) scale(1.1000,1)" font-size="34.50">0</text>
<text transform="translate(103.01,187.80) scale(1.1000,1)" font-size="34.50">0</text>
<text transform="translate(222.38,187.80) scale(1.1000,1)" font-size="34.50">1</text>
<text transform="translate(338.93,187.80) scale(1.1000,1)" font-size="34.50">2</text>
<text transform="translate(456.85,187.80) scale(1.1000,1)" font-size="34.50">3</text>
<text transform="translate(574.04,187.80) scale(1.1000,1)" font-size="34.50">4</text>
<text transform="translate(694.45,187.80) scale(1.1000,1)" font-size="34.50">5</text>
<text transform="translate(874.41,189.30) scale(1.1000,1)" font-size="34.50">0</text>
<text transform="translate(993.98,189.30) scale(1.1000,1)" font-size="34.50">1</text>
<text transform="translate(1110.83,189.30) scale(1.1000,1)" font-size="34.50">2</text>
<text transform="translate(1228.45,189.30) scale(1.1000,1)" font-size="34.50">3</text>
<text transform="translate(1345.64,189.30) scale(1.1000,1)" font-size="34.50">4</text>
<text transform="translate(1465.55,189.30) scale(1.1000,1)" font-size="34.50">5</text>
<text transform="translate(101.51,456.50) scale(1.1000,1)" font-size="34.50">0</text>
<text transform="translate(220.48,456.50) scale(1.1000,1)" font-size="34.50">1</text>
<text transform="translate(337.93,456.50) scale(1.1000,1)" font-size="34.50">2</text>
<text transform="translate(455.25,456.50) scale(1.1000,1)" font-size="34.50">3</text>
<text transform="translate(572.54,456.50) scale(1.1000,1)" font-size="34.50">4</text>
<text transform="translate(692.15,456.50) scale(1.1000,1)" font-size="34.50">5</text>
<text transform="translate(873.01,456.60) scale(1.1000,1)" font-size="34.50">0</text>
<text transform="translate(991.48,456.60) scale(1.1000,1)" font-size="34.50">1</text>
<text transform="translate(1108.93,456.60) scale(1.1000,1)" font-size="34.50">2</text>
<text transform="translate(1225.95,456.60) scale(1.1000,1)" font-size="34.50">3</text>
<text transform="translate(1343.94,456.60) scale(1.1000,1)" font-size="34.50">4</text>
<text transform="translate(1463.75,456.60) scale(1.1000,1)" font-size="34.50">5</text>
<text transform="translate(103.31,719.40) scale(1.1000,1)" font-size="34.50">0</text>
<text transform="translate(221.78,719.40) scale(1.1000,1)" font-size="34.50">1</text>
<text transform="translate(339.13,719.40) scale(1.1000,1)" font-size="34.50">2</text>
<text transform="translate(457.05,719.40) scale(1.1000,1)" font-size="34.50">3</text>
<text transform="translate(573.84,719.40) scale(1.1000,1)" font-size="34.50">4</text>
<text transform="translate(694.35,719.40) scale(1.1000,1)" font-size="34.50">5</text>
<text transform="translate(301.16,225.10) scale(1.1986,1)" font-size="34.00">Time</text>
<text transform="translate(402.74,225.28) scale(0.01772,0.01772)" font-size="2048" stroke-width="25.40">(</text>
<text transform="translate(414.05,225.10) scale(1.0923,1)" font-size="34.00">10</text>
<rect x="455.08" y="208.25" width="15.73" height="1.7" stroke="none"/>
<text stroke="none" transform="translate(472.80,215.30) scale(1.0972,1)" font-size="23.80">5</text>
<text transform="translate(494.53,225.10) scale(1.1616,1)" font-size="34.00">s</text>
<text transform="translate(512.81,225.28) scale(0.01772,0.01772)" font-size="2048" stroke-width="25.40">)</text>
<text transform="translate(1072.37,227.30) scale(1.1964,1)" font-size="34.00">Time</text>
<text transform="translate(1173.75,227.48) scale(0.01772,0.01772)" font-size="2048" stroke-width="25.40">(</text>
<text transform="translate(1185.04,227.30) scale(1.0903,1)" font-size="34.00">10</text>
<rect x="1226.00" y="210.45" width="15.70" height="1.7" stroke="none"/>
<text stroke="none" transform="translate(1243.69,217.50) scale(1.0952,1)" font-size="23.80">5</text>
<text transform="translate(1265.38,227.30) scale(1.1595,1)" font-size="34.00">s</text>
<text transform="translate(1283.62,227.48) scale(0.01772,0.01772)" font-size="2048" stroke-width="25.40">)</text>
<text transform="translate(299.77,494.30) scale(1.1894,1)" font-size="34.00">Time</text>
<text transform="translate(400.52,494.48) scale(0.01772,0.01772)" font-size="2048" stroke-width="25.40">(</text>
<text transform="translate(411.78,494.30) scale(1.0839,1)" font-size="34.00">10</text>
<rect x="452.50" y="477.45" width="15.61" height="1.7" stroke="none"/>
<text stroke="none" transform="translate(470.08,484.50) scale(1.0887,1)" font-size="23.80">5</text>
<text transform="translate(491.65,494.30) scale(1.1526,1)" font-size="34.00">s</text>
<text transform="translate(509.74,494.48) scale(0.01772,0.01772)" font-size="2048" stroke-width="25.40">)</text>
<text transform="translate(1071.77,493.70) scale(1.1888,1)" font-size="34.00">Time</text>
<text transform="translate(1172.47,493.88) scale(0.01772,0.01772)" font-size="2048" stroke-width="25.40">(</text>
<text transform="translate(1183.73,493.70) scale(1.0834,1)" font-size="34.00">10</text>
<rect x="1224.43" y="476.85" width="15.60" height="1.7" stroke="none"/>
<text stroke="none" transform="translate(1242.00,483.90) scale(1.0882,1)" font-size="23.80">5</text>
<text transform="translate(1263.56,493.70) scale(1.1521,1)" font-size="34.00">s</text>
<text transform="translate(1281.65,493.88) scale(0.01772,0.01772)" font-size="2048" stroke-width="25.40">)</text>
<text transform="translate(300.87,756.80) scale(1.1921,1)" font-size="34.00">Time</text>
<text transform="translate(401.86,756.98) scale(0.01772,0.01772)" font-size="2048" stroke-width="25.40">(</text>
<text transform="translate(413.14,756.80) scale(1.0863,1)" font-size="34.00">10</text>
<rect x="453.94" y="739.95" width="15.64" height="1.7" stroke="none"/>
<text stroke="none" transform="translate(471.57,747.00) scale(1.0912,1)" font-size="23.80">5</text>
<text transform="translate(493.18,756.80) scale(1.1552,1)" font-size="34.00">s</text>
<text transform="translate(511.34,756.98) scale(0.01772,0.01772)" font-size="2048" stroke-width="25.40">)</text>
<text transform="translate(791.04,166.90) scale(1.1077,1)" font-size="34.50">10</text>
<rect x="831.8" y="150.05" width="15.5" height="1.7" stroke="none"/>
<text stroke="none" transform="translate(850.00,157.00) scale(1.1009,1)" font-size="23.80">10</text>
<text transform="translate(38.48,359.20) scale(1.0944,1)" font-size="34.50">10</text>
<text stroke="none" transform="translate(76.47,349.30) scale(1.1153,1)" font-size="23.80">10</text>
<text transform="translate(811.19,283.40) scale(1.1242,1)" font-size="34.50">10</text>
<text stroke="none" transform="translate(849.71,273.30) scale(1.1441,1)" font-size="23.80">10</text>
<text transform="translate(51.31,585.30) scale(1.1176,1)" font-size="34.50">10</text>
<text stroke="none" transform="translate(90.55,575.20) scale(0.9762,1)" font-size="23.80">4</text>
<text transform="translate(51.33,688.30) scale(1.1110,1)" font-size="34.50">10</text>
<text stroke="none" transform="translate(90.04,677.80) scale(1.1110,1)" font-size="23.80">2</text>
<text transform="translate(38.80,131.02) rotate(-90) scale(1.0941,1)" font-size="31.40" font-style="italic">R</text>
<path d="M45.2 108.4L17.2 97.4" stroke="#000" stroke-width="1.7"/>
<text transform="translate(38.80,93.32) rotate(-90) scale(1.0623,1)" font-size="31.40" font-style="italic">R</text>
<text stroke="none" transform="translate(43.00,73.25) rotate(-90) scale(0.9418,1)" font-size="23.80">0</text>
<text transform="translate(772.50,165.81) rotate(-90) scale(1.1438,1)" font-size="30.50">Energy</text>
<text transform="translate(772.50,50.64) rotate(-90) scale(1.2202,1)" font-size="30.50">(J)</text>
<text transform="translate(25.00,473.61) rotate(-90) scale(1.0334,1)" font-size="30.50">Number</text>
<text transform="translate(25.00,359.39) rotate(-90) scale(1.0270,1)" font-size="30.50">of</text>
<text transform="translate(25.00,324.14) rotate(-90) scale(1.0007,1)" font-size="30.50">molecules</text>
<text transform="translate(771.70,443.75) rotate(-90) scale(1.1962,1)" font-size="30.50">Pressure</text>
<text transform="translate(771.70,308.09) rotate(-90) scale(1.1884,1)" font-size="30.50">(Pa)</text>
<text transform="translate(24.70,743.56) rotate(-90) scale(1.1901,1)" font-size="30.50">Temperature</text>
<text transform="translate(24.70,545.20) rotate(-90) scale(1.1221,1)" font-size="30.50">(K)</text>
<text transform="translate(945.06,556.70) scale(1.1613,1)" font-size="34.00">Single</text>
<text transform="translate(1060.80,556.70) scale(1.1909,1)" font-size="34.00">bubble</text>
<text transform="translate(946.53,596.10) scale(1.1962,1)" font-size="34.00">Bubble</text>
<text transform="translate(1077.50,596.10) scale(1.1143,1)" font-size="34.00">in</text>
<text transform="translate(1122.69,596.10) scale(1.2467,1)" font-size="34.00">the</text>
<text transform="translate(1186.33,596.10) scale(1.2106,1)" font-size="34.00">center</text>
<text transform="translate(946.53,636.10) scale(1.1962,1)" font-size="34.00">Bubble</text>
<text transform="translate(1076.76,636.10) scale(1.2920,1)" font-size="34.00">at</text>
<text transform="translate(1123.99,636.10) scale(1.2442,1)" font-size="34.00">the</text>
<text transform="translate(1187.53,636.10) scale(1.2001,1)" font-size="34.00">surface</text>
</g>
</svg>
</body></html>
